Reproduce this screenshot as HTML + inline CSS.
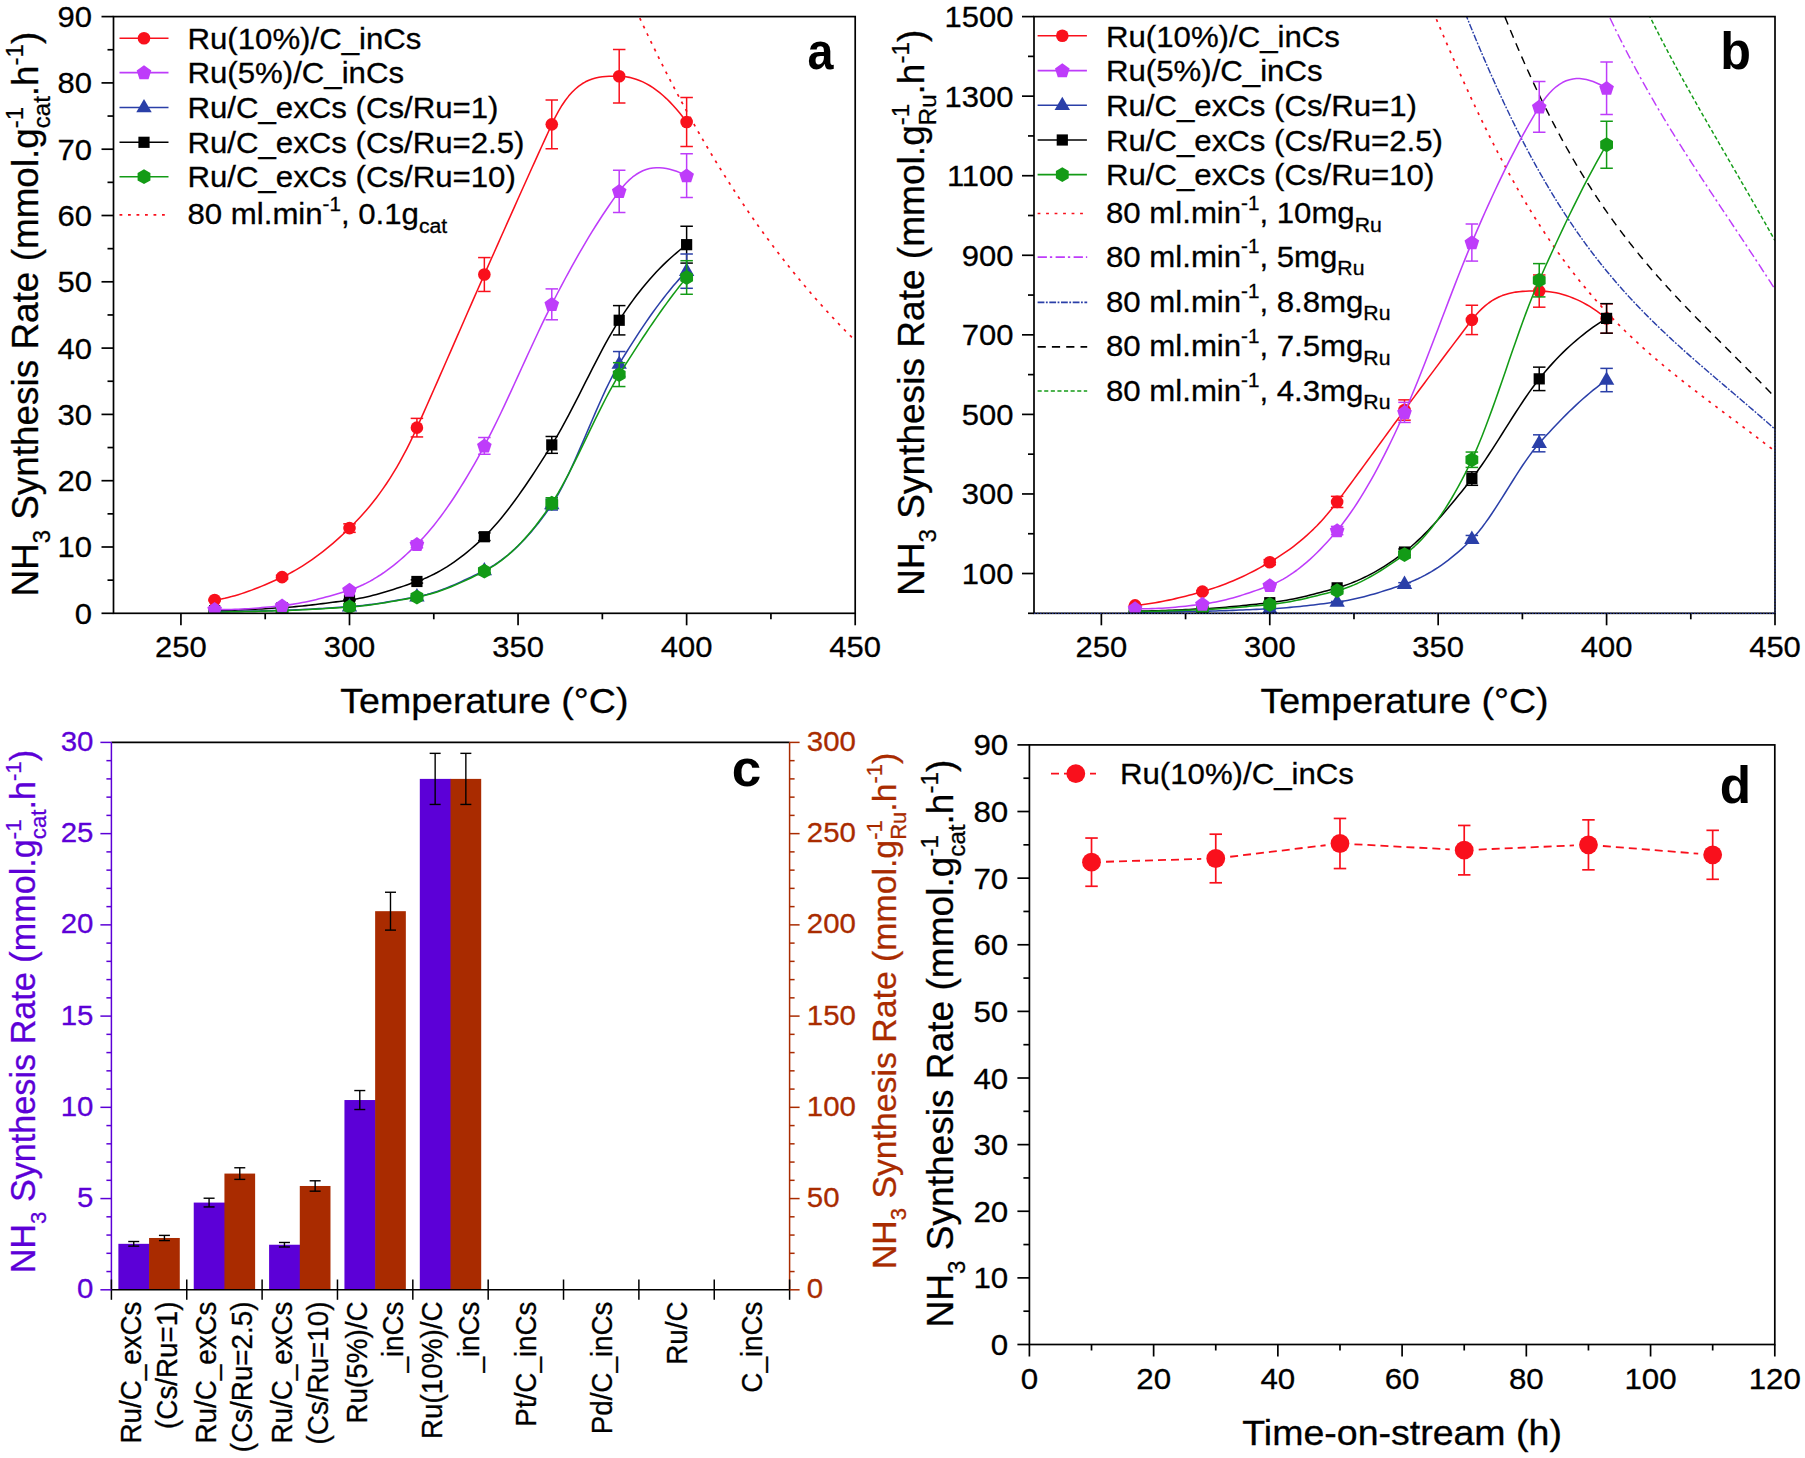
<!DOCTYPE html>
<html><head><meta charset="utf-8"><title>NH3 synthesis rate</title>
<style>html,body{margin:0;padding:0;background:#fff}svg{display:block}</style></head>
<body>
<svg width="1805" height="1458" viewBox="0 0 1805 1458" font-family="Liberation Sans, Arial, Helvetica, sans-serif">
<rect width="1805" height="1458" fill="#fff"/>
<clipPath id="clipa"><rect x="113.5" y="16.6" width="741.7" height="597.3"/></clipPath>
<polyline points="632.69,2.58 633.53,4.45 634.38,6.30 635.22,8.16 636.06,10.00 636.90,11.84 637.75,13.68 638.59,15.51 639.43,17.33 640.28,19.15 641.12,20.96 641.96,22.77 642.80,24.57 643.65,26.36 644.49,28.15 645.33,29.94 646.18,31.72 647.02,33.49 647.86,35.26 648.70,37.02 649.55,38.78 650.39,40.53 651.23,42.28 652.08,44.02 652.92,45.76 653.76,47.49 654.60,49.22 655.45,50.94 656.29,52.65 657.13,54.36 657.98,56.07 658.82,57.77 659.66,59.46 660.50,61.15 661.35,62.84 662.19,64.51 663.03,66.19 663.88,67.86 664.72,69.52 665.56,71.18 666.40,72.83 667.25,74.48 668.09,76.13 668.93,77.76 669.77,79.40 670.62,81.03 671.46,82.65 672.30,84.27 673.15,85.88 673.99,87.49 674.83,89.10 675.67,90.69 676.52,92.29 677.36,93.88 678.20,95.46 679.05,97.04 679.89,98.62 680.73,100.19 681.57,101.75 682.42,103.31 683.26,104.87 684.10,106.42 684.95,107.96 685.79,109.51 686.63,111.04 687.47,112.57 688.32,114.10 689.16,115.62 690.00,117.14 690.85,118.66 691.69,120.17 692.53,121.67 693.37,123.17 694.22,124.66 695.06,126.15 695.90,127.64 696.75,129.12 697.59,130.60 698.43,132.07 699.27,133.54 700.12,135.00 700.96,136.46 701.80,137.92 702.65,139.37 703.49,140.81 704.33,142.25 705.17,143.69 706.02,145.12 706.86,146.55 707.70,147.97 708.55,149.39 709.39,150.81 710.23,152.22 711.07,153.63 711.92,155.03 712.76,156.43 713.60,157.82 714.45,159.21 715.29,160.59 716.13,161.98 716.97,163.35 717.82,164.72 718.66,166.09 719.50,167.46 720.35,168.82 721.19,170.17 722.03,171.52 722.87,172.87 723.72,174.22 724.56,175.55 725.40,176.89 726.25,178.22 727.09,179.55 727.93,180.87 728.77,182.19 729.62,183.51 730.46,184.82 731.30,186.12 732.15,187.43 732.99,188.73 733.83,190.02 734.67,191.31 735.52,192.60 736.36,193.88 737.20,195.16 738.05,196.44 738.89,197.71 739.73,198.98 740.57,200.24 741.42,201.50 742.26,202.76 743.10,204.01 743.95,205.26 744.79,206.50 745.63,207.74 746.47,208.98 747.32,210.21 748.16,211.44 749.00,212.67 749.84,213.89 750.69,215.11 751.53,216.32 752.37,217.53 753.22,218.74 754.06,219.95 754.90,221.14 755.74,222.34 756.59,223.53 757.43,224.72 758.27,225.91 759.12,227.09 759.96,228.27 760.80,229.44 761.64,230.61 762.49,231.78 763.33,232.94 764.17,234.10 765.02,235.26 765.86,236.41 766.70,237.56 767.54,238.71 768.39,239.85 769.23,240.99 770.07,242.13 770.92,243.26 771.76,244.39 772.60,245.51 773.44,246.64 774.29,247.75 775.13,248.87 775.97,249.98 776.82,251.09 777.66,252.19 778.50,253.30 779.34,254.39 780.19,255.49 781.03,256.58 781.87,257.67 782.72,258.75 783.56,259.83 784.40,260.91 785.24,261.99 786.09,263.06 786.93,264.13 787.77,265.19 788.62,266.25 789.46,267.31 790.30,268.37 791.14,269.42 791.99,270.47 792.83,271.51 793.67,272.56 794.52,273.60 795.36,274.63 796.20,275.67 797.04,276.70 797.89,277.72 798.73,278.75 799.57,279.77 800.42,280.78 801.26,281.80 802.10,282.81 802.94,283.82 803.79,284.82 804.63,285.82 805.47,286.82 806.32,287.82 807.16,288.81 808.00,289.80 808.84,290.79 809.69,291.77 810.53,292.75 811.37,293.73 812.22,294.71 813.06,295.68 813.90,296.65 814.74,297.61 815.59,298.58 816.43,299.54 817.27,300.49 818.12,301.45 818.96,302.40 819.80,303.35 820.64,304.29 821.49,305.23 822.33,306.17 823.17,307.11 824.01,308.05 824.86,308.98 825.70,309.90 826.54,310.83 827.39,311.75 828.23,312.67 829.07,313.59 829.91,314.50 830.76,315.42 831.60,316.32 832.44,317.23 833.29,318.13 834.13,319.03 834.97,319.93 835.81,320.83 836.66,321.72 837.50,322.61 838.34,323.49 839.19,324.38 840.03,325.26 840.87,326.14 841.71,327.01 842.56,327.89 843.40,328.76 844.24,329.63 845.09,330.49 845.93,331.35 846.77,332.21 847.61,333.07 848.46,333.93 849.30,334.78 850.14,335.63 850.99,336.47 851.83,337.32 852.67,338.16 853.51,339.00 854.36,339.84 855.20,340.67" fill="none" stroke="#f9101c" stroke-width="1.7" stroke-linejoin="round" stroke-dasharray="2.8 5.7" clip-path="url(#clipa)"/>
<g clip-path="url(#clipa)">
<polyline points="214.64,600.04 218.01,599.51 221.38,598.89 224.75,598.20 228.13,597.42 231.50,596.58 234.87,595.66 238.24,594.67 241.61,593.62 244.98,592.51 248.35,591.35 251.73,590.12 255.10,588.85 258.47,587.52 261.84,586.15 265.21,584.74 268.58,583.29 271.95,581.81 275.33,580.29 278.70,578.74 282.07,577.17 285.44,575.54 288.81,573.82 292.18,572.01 295.55,570.12 298.93,568.14 302.30,566.07 305.67,563.92 309.04,561.68 312.41,559.35 315.78,556.94 319.15,554.44 322.52,551.85 325.90,549.18 329.27,546.42 332.64,543.58 336.01,540.66 339.38,537.64 342.75,534.55 346.12,531.37 349.50,528.10 352.87,524.75 356.24,521.29 359.61,517.71 362.98,514.00 366.35,510.16 369.72,506.16 373.10,501.99 376.47,497.65 379.84,493.13 383.21,488.40 386.58,483.46 389.95,478.31 393.32,472.92 396.69,467.28 400.07,461.39 403.44,455.22 406.81,448.78 410.18,442.05 413.55,435.01 416.92,427.66 420.29,420.13 423.67,412.57 427.04,404.98 430.41,397.37 433.78,389.73 437.15,382.08 440.52,374.40 443.89,366.72 447.27,359.02 450.64,351.32 454.01,343.61 457.38,335.90 460.75,328.19 464.12,320.49 467.49,312.79 470.86,305.10 474.24,297.43 477.61,289.77 480.98,282.13 484.35,274.51 487.72,266.90 491.09,259.30 494.46,251.71 497.84,244.12 501.21,236.54 504.58,228.97 507.95,221.41 511.32,213.85 514.69,206.31 518.06,198.78 521.43,191.27 524.81,183.76 528.18,176.27 531.55,168.80 534.92,161.35 538.29,153.91 541.66,146.48 545.03,139.08 548.41,131.70 551.78,124.34 555.15,117.35 558.52,111.08 561.89,105.47 565.26,100.49 568.63,96.11 572.01,92.29 575.38,88.99 578.75,86.17 582.12,83.79 585.49,81.82 588.86,80.22 592.23,78.96 595.61,77.98 598.98,77.27 602.35,76.77 605.72,76.46 609.09,76.29 612.46,76.23 615.83,76.23 619.20,76.27 622.58,76.42 625.95,76.78 629.32,77.37 632.69,78.17 636.06,79.19 639.43,80.44 642.80,81.90 646.18,83.60 649.55,85.52 652.92,87.66 656.29,90.04 659.66,92.65 663.03,95.49 666.40,98.57 669.77,101.88 673.15,105.43 676.52,109.21 679.89,113.24 683.26,117.51 686.63,122.02" fill="none" stroke="#f9101c" stroke-width="1.55" stroke-linejoin="round"/>
<line x1="214.64" y1="599.38" x2="214.64" y2="600.70" stroke="#f9101c" stroke-width="1.5" stroke-linecap="butt"/>
<line x1="208.39" y1="599.38" x2="220.89" y2="599.38" stroke="#f9101c" stroke-width="1.5" stroke-linecap="butt"/>
<line x1="208.39" y1="600.70" x2="220.89" y2="600.70" stroke="#f9101c" stroke-width="1.5" stroke-linecap="butt"/>
<line x1="282.07" y1="575.36" x2="282.07" y2="578.97" stroke="#f9101c" stroke-width="1.5" stroke-linecap="butt"/>
<line x1="275.82" y1="575.36" x2="288.32" y2="575.36" stroke="#f9101c" stroke-width="1.5" stroke-linecap="butt"/>
<line x1="275.82" y1="578.97" x2="288.32" y2="578.97" stroke="#f9101c" stroke-width="1.5" stroke-linecap="butt"/>
<line x1="349.50" y1="523.84" x2="349.50" y2="532.36" stroke="#f9101c" stroke-width="1.5" stroke-linecap="butt"/>
<line x1="343.25" y1="523.84" x2="355.75" y2="523.84" stroke="#f9101c" stroke-width="1.5" stroke-linecap="butt"/>
<line x1="343.25" y1="532.36" x2="355.75" y2="532.36" stroke="#f9101c" stroke-width="1.5" stroke-linecap="butt"/>
<line x1="416.92" y1="418.38" x2="416.92" y2="436.94" stroke="#f9101c" stroke-width="1.5" stroke-linecap="butt"/>
<line x1="410.67" y1="418.38" x2="423.17" y2="418.38" stroke="#f9101c" stroke-width="1.5" stroke-linecap="butt"/>
<line x1="410.67" y1="436.94" x2="423.17" y2="436.94" stroke="#f9101c" stroke-width="1.5" stroke-linecap="butt"/>
<line x1="484.35" y1="257.57" x2="484.35" y2="291.45" stroke="#f9101c" stroke-width="1.5" stroke-linecap="butt"/>
<line x1="478.10" y1="257.57" x2="490.60" y2="257.57" stroke="#f9101c" stroke-width="1.5" stroke-linecap="butt"/>
<line x1="478.10" y1="291.45" x2="490.60" y2="291.45" stroke="#f9101c" stroke-width="1.5" stroke-linecap="butt"/>
<line x1="551.78" y1="99.89" x2="551.78" y2="148.79" stroke="#f9101c" stroke-width="1.5" stroke-linecap="butt"/>
<line x1="545.53" y1="99.89" x2="558.03" y2="99.89" stroke="#f9101c" stroke-width="1.5" stroke-linecap="butt"/>
<line x1="545.53" y1="148.79" x2="558.03" y2="148.79" stroke="#f9101c" stroke-width="1.5" stroke-linecap="butt"/>
<line x1="619.20" y1="49.42" x2="619.20" y2="103.12" stroke="#f9101c" stroke-width="1.5" stroke-linecap="butt"/>
<line x1="612.95" y1="49.42" x2="625.45" y2="49.42" stroke="#f9101c" stroke-width="1.5" stroke-linecap="butt"/>
<line x1="612.95" y1="103.12" x2="625.45" y2="103.12" stroke="#f9101c" stroke-width="1.5" stroke-linecap="butt"/>
<line x1="686.63" y1="97.45" x2="686.63" y2="146.58" stroke="#f9101c" stroke-width="1.5" stroke-linecap="butt"/>
<line x1="680.38" y1="97.45" x2="692.88" y2="97.45" stroke="#f9101c" stroke-width="1.5" stroke-linecap="butt"/>
<line x1="680.38" y1="146.58" x2="692.88" y2="146.58" stroke="#f9101c" stroke-width="1.5" stroke-linecap="butt"/>
<circle cx="214.64" cy="600.04" r="6.30" fill="#f9101c"/>
<circle cx="282.07" cy="577.17" r="6.30" fill="#f9101c"/>
<circle cx="349.50" cy="528.10" r="6.30" fill="#f9101c"/>
<circle cx="416.92" cy="427.66" r="6.30" fill="#f9101c"/>
<circle cx="484.35" cy="274.51" r="6.30" fill="#f9101c"/>
<circle cx="551.78" cy="124.34" r="6.30" fill="#f9101c"/>
<circle cx="619.20" cy="76.27" r="6.30" fill="#f9101c"/>
<circle cx="686.63" cy="122.02" r="6.30" fill="#f9101c"/>
<polyline points="214.64,610.65 218.01,610.61 221.38,610.55 224.75,610.48 228.13,610.39 231.50,610.29 234.87,610.18 238.24,610.06 241.61,609.92 244.98,609.78 248.35,609.62 251.73,609.45 255.10,609.28 258.47,609.10 261.84,608.91 265.21,608.71 268.58,608.51 271.95,608.31 275.33,608.10 278.70,607.88 282.07,607.66 285.44,607.43 288.81,607.18 292.18,606.91 295.55,606.61 298.93,606.29 302.30,605.96 305.67,605.61 309.04,605.24 312.41,604.86 315.78,604.47 319.15,604.06 322.52,603.64 325.90,603.21 329.27,602.77 332.64,602.33 336.01,601.88 339.38,601.42 342.75,600.97 346.12,600.50 349.50,600.04 352.87,599.54 356.24,598.98 359.61,598.36 362.98,597.67 366.35,596.94 369.72,596.15 373.10,595.31 376.47,594.43 379.84,593.50 383.21,592.54 386.58,591.54 389.95,590.50 393.32,589.44 396.69,588.36 400.07,587.25 403.44,586.12 406.81,584.97 410.18,583.82 413.55,582.65 416.92,581.48 420.29,580.25 423.67,578.91 427.04,577.47 430.41,575.91 433.78,574.26 437.15,572.49 440.52,570.62 443.89,568.64 447.27,566.56 450.64,564.37 454.01,562.07 457.38,559.67 460.75,557.17 464.12,554.56 467.49,551.85 470.86,549.03 474.24,546.11 477.61,543.08 480.98,539.95 484.35,536.72 487.72,533.35 491.09,529.81 494.46,526.09 497.84,522.22 501.21,518.20 504.58,514.04 507.95,509.74 511.32,505.31 514.69,500.76 518.06,496.09 521.43,491.32 524.81,486.46 528.18,481.50 531.55,476.46 534.92,471.34 538.29,466.16 541.66,460.91 545.03,455.62 548.41,450.28 551.78,444.90 555.15,439.37 558.52,433.61 561.89,427.64 565.26,421.48 568.63,415.17 572.01,408.73 575.38,402.18 578.75,395.56 582.12,388.90 585.49,382.21 588.86,375.53 592.23,368.89 595.61,362.31 598.98,355.81 602.35,349.43 605.72,343.20 609.09,337.14 612.46,331.28 615.83,325.64 619.20,320.25 622.58,315.09 625.95,310.09 629.32,305.26 632.69,300.59 636.06,296.07 639.43,291.71 642.80,287.50 646.18,283.43 649.55,279.51 652.92,275.72 656.29,272.07 659.66,268.55 663.03,265.16 666.40,261.89 669.77,258.74 673.15,255.71 676.52,252.79 679.89,249.98 683.26,247.27 686.63,244.67" fill="none" stroke="#000000" stroke-width="1.55" stroke-linejoin="round"/>
<line x1="214.64" y1="610.52" x2="214.64" y2="610.78" stroke="#000000" stroke-width="1.5" stroke-linecap="butt"/>
<line x1="208.39" y1="610.52" x2="220.89" y2="610.52" stroke="#000000" stroke-width="1.5" stroke-linecap="butt"/>
<line x1="208.39" y1="610.78" x2="220.89" y2="610.78" stroke="#000000" stroke-width="1.5" stroke-linecap="butt"/>
<line x1="282.07" y1="607.38" x2="282.07" y2="607.95" stroke="#000000" stroke-width="1.5" stroke-linecap="butt"/>
<line x1="275.82" y1="607.38" x2="288.32" y2="607.38" stroke="#000000" stroke-width="1.5" stroke-linecap="butt"/>
<line x1="275.82" y1="607.95" x2="288.32" y2="607.95" stroke="#000000" stroke-width="1.5" stroke-linecap="butt"/>
<line x1="349.50" y1="599.38" x2="349.50" y2="600.70" stroke="#000000" stroke-width="1.5" stroke-linecap="butt"/>
<line x1="343.25" y1="599.38" x2="355.75" y2="599.38" stroke="#000000" stroke-width="1.5" stroke-linecap="butt"/>
<line x1="343.25" y1="600.70" x2="355.75" y2="600.70" stroke="#000000" stroke-width="1.5" stroke-linecap="butt"/>
<line x1="416.92" y1="579.88" x2="416.92" y2="583.07" stroke="#000000" stroke-width="1.5" stroke-linecap="butt"/>
<line x1="410.67" y1="579.88" x2="423.17" y2="579.88" stroke="#000000" stroke-width="1.5" stroke-linecap="butt"/>
<line x1="410.67" y1="583.07" x2="423.17" y2="583.07" stroke="#000000" stroke-width="1.5" stroke-linecap="butt"/>
<line x1="484.35" y1="532.89" x2="484.35" y2="540.55" stroke="#000000" stroke-width="1.5" stroke-linecap="butt"/>
<line x1="478.10" y1="532.89" x2="490.60" y2="532.89" stroke="#000000" stroke-width="1.5" stroke-linecap="butt"/>
<line x1="478.10" y1="540.55" x2="490.60" y2="540.55" stroke="#000000" stroke-width="1.5" stroke-linecap="butt"/>
<line x1="551.78" y1="436.48" x2="551.78" y2="453.32" stroke="#000000" stroke-width="1.5" stroke-linecap="butt"/>
<line x1="545.53" y1="436.48" x2="558.03" y2="436.48" stroke="#000000" stroke-width="1.5" stroke-linecap="butt"/>
<line x1="545.53" y1="453.32" x2="558.03" y2="453.32" stroke="#000000" stroke-width="1.5" stroke-linecap="butt"/>
<line x1="619.20" y1="305.60" x2="619.20" y2="334.91" stroke="#000000" stroke-width="1.5" stroke-linecap="butt"/>
<line x1="612.95" y1="305.60" x2="625.45" y2="305.60" stroke="#000000" stroke-width="1.5" stroke-linecap="butt"/>
<line x1="612.95" y1="334.91" x2="625.45" y2="334.91" stroke="#000000" stroke-width="1.5" stroke-linecap="butt"/>
<line x1="686.63" y1="226.24" x2="686.63" y2="263.10" stroke="#000000" stroke-width="1.5" stroke-linecap="butt"/>
<line x1="680.38" y1="226.24" x2="692.88" y2="226.24" stroke="#000000" stroke-width="1.5" stroke-linecap="butt"/>
<line x1="680.38" y1="263.10" x2="692.88" y2="263.10" stroke="#000000" stroke-width="1.5" stroke-linecap="butt"/>
<rect x="209.04" y="605.05" width="11.20" height="11.20" fill="#000000"/>
<rect x="276.47" y="602.06" width="11.20" height="11.20" fill="#000000"/>
<rect x="343.90" y="594.44" width="11.20" height="11.20" fill="#000000"/>
<rect x="411.32" y="575.88" width="11.20" height="11.20" fill="#000000"/>
<rect x="478.75" y="531.12" width="11.20" height="11.20" fill="#000000"/>
<rect x="546.18" y="439.30" width="11.20" height="11.20" fill="#000000"/>
<rect x="613.60" y="314.65" width="11.20" height="11.20" fill="#000000"/>
<rect x="681.03" y="239.07" width="11.20" height="11.20" fill="#000000"/>
<polyline points="214.64,611.64 218.01,611.63 221.38,611.61 224.75,611.58 228.13,611.55 231.50,611.50 234.87,611.45 238.24,611.40 241.61,611.34 244.98,611.27 248.35,611.20 251.73,611.13 255.10,611.05 258.47,610.97 261.84,610.88 265.21,610.79 268.58,610.70 271.95,610.61 275.33,610.51 278.70,610.41 282.07,610.32 285.44,610.21 288.81,610.10 292.18,609.97 295.55,609.83 298.93,609.68 302.30,609.52 305.67,609.35 309.04,609.18 312.41,608.99 315.78,608.80 319.15,608.61 322.52,608.40 325.90,608.20 329.27,607.99 332.64,607.77 336.01,607.55 339.38,607.33 342.75,607.11 346.12,606.89 349.50,606.67 352.87,606.43 356.24,606.14 359.61,605.82 362.98,605.46 366.35,605.06 369.72,604.64 373.10,604.18 376.47,603.70 379.84,603.19 383.21,602.66 386.58,602.12 389.95,601.55 393.32,600.97 396.69,600.38 400.07,599.78 403.44,599.17 406.81,598.56 410.18,597.95 413.55,597.34 416.92,596.72 420.29,596.07 423.67,595.31 427.04,594.45 430.41,593.51 433.78,592.48 437.15,591.38 440.52,590.20 443.89,588.95 447.27,587.64 450.64,586.27 454.01,584.85 457.38,583.38 460.75,581.87 464.12,580.32 467.49,578.74 470.86,577.13 474.24,575.50 477.61,573.86 480.98,572.20 484.35,570.54 487.72,568.79 491.09,566.89 494.46,564.83 497.84,562.61 501.21,560.23 504.58,557.68 507.95,554.98 511.32,552.11 514.69,549.07 518.06,545.87 521.43,542.51 524.81,538.97 528.18,535.27 531.55,531.40 534.92,527.36 538.29,523.15 541.66,518.76 545.03,514.21 548.41,509.47 551.78,504.57 555.15,499.31 558.52,493.55 561.89,487.34 565.26,480.73 568.63,473.79 572.01,466.55 575.38,459.07 578.75,451.41 582.12,443.61 585.49,435.74 588.86,427.83 592.23,419.95 595.61,412.14 598.98,404.46 602.35,396.96 605.72,389.70 609.09,382.72 612.46,376.08 615.83,369.82 619.20,364.01 622.58,358.47 625.95,353.01 629.32,347.61 632.69,342.30 636.06,337.07 639.43,331.92 642.80,326.87 646.18,321.91 649.55,317.05 652.92,312.29 656.29,307.64 659.66,303.09 663.03,298.67 666.40,294.36 669.77,290.17 673.15,286.10 676.52,282.17 679.89,278.37 683.26,274.71 686.63,271.19" fill="none" stroke="#2a3fa8" stroke-width="1.55" stroke-linejoin="round"/>
<line x1="214.64" y1="611.56" x2="214.64" y2="611.73" stroke="#2a3fa8" stroke-width="1.5" stroke-linecap="butt"/>
<line x1="208.39" y1="611.56" x2="220.89" y2="611.56" stroke="#2a3fa8" stroke-width="1.5" stroke-linecap="butt"/>
<line x1="208.39" y1="611.73" x2="220.89" y2="611.73" stroke="#2a3fa8" stroke-width="1.5" stroke-linecap="butt"/>
<line x1="282.07" y1="610.17" x2="282.07" y2="610.47" stroke="#2a3fa8" stroke-width="1.5" stroke-linecap="butt"/>
<line x1="275.82" y1="610.17" x2="288.32" y2="610.17" stroke="#2a3fa8" stroke-width="1.5" stroke-linecap="butt"/>
<line x1="275.82" y1="610.47" x2="288.32" y2="610.47" stroke="#2a3fa8" stroke-width="1.5" stroke-linecap="butt"/>
<line x1="349.50" y1="606.34" x2="349.50" y2="607.00" stroke="#2a3fa8" stroke-width="1.5" stroke-linecap="butt"/>
<line x1="343.25" y1="606.34" x2="355.75" y2="606.34" stroke="#2a3fa8" stroke-width="1.5" stroke-linecap="butt"/>
<line x1="343.25" y1="607.00" x2="355.75" y2="607.00" stroke="#2a3fa8" stroke-width="1.5" stroke-linecap="butt"/>
<line x1="416.92" y1="595.90" x2="416.92" y2="597.55" stroke="#2a3fa8" stroke-width="1.5" stroke-linecap="butt"/>
<line x1="410.67" y1="595.90" x2="423.17" y2="595.90" stroke="#2a3fa8" stroke-width="1.5" stroke-linecap="butt"/>
<line x1="410.67" y1="597.55" x2="423.17" y2="597.55" stroke="#2a3fa8" stroke-width="1.5" stroke-linecap="butt"/>
<line x1="484.35" y1="568.40" x2="484.35" y2="572.67" stroke="#2a3fa8" stroke-width="1.5" stroke-linecap="butt"/>
<line x1="478.10" y1="568.40" x2="490.60" y2="568.40" stroke="#2a3fa8" stroke-width="1.5" stroke-linecap="butt"/>
<line x1="478.10" y1="572.67" x2="490.60" y2="572.67" stroke="#2a3fa8" stroke-width="1.5" stroke-linecap="butt"/>
<line x1="551.78" y1="499.13" x2="551.78" y2="510.00" stroke="#2a3fa8" stroke-width="1.5" stroke-linecap="butt"/>
<line x1="545.53" y1="499.13" x2="558.03" y2="499.13" stroke="#2a3fa8" stroke-width="1.5" stroke-linecap="butt"/>
<line x1="545.53" y1="510.00" x2="558.03" y2="510.00" stroke="#2a3fa8" stroke-width="1.5" stroke-linecap="butt"/>
<line x1="619.20" y1="351.55" x2="619.20" y2="376.48" stroke="#2a3fa8" stroke-width="1.5" stroke-linecap="butt"/>
<line x1="612.95" y1="351.55" x2="625.45" y2="351.55" stroke="#2a3fa8" stroke-width="1.5" stroke-linecap="butt"/>
<line x1="612.95" y1="376.48" x2="625.45" y2="376.48" stroke="#2a3fa8" stroke-width="1.5" stroke-linecap="butt"/>
<line x1="686.63" y1="254.09" x2="686.63" y2="288.30" stroke="#2a3fa8" stroke-width="1.5" stroke-linecap="butt"/>
<line x1="680.38" y1="254.09" x2="692.88" y2="254.09" stroke="#2a3fa8" stroke-width="1.5" stroke-linecap="butt"/>
<line x1="680.38" y1="288.30" x2="692.88" y2="288.30" stroke="#2a3fa8" stroke-width="1.5" stroke-linecap="butt"/>
<polygon points="214.64,603.04 222.35,616.39 206.93,616.39" fill="#2a3fa8"/>
<polygon points="282.07,601.72 289.78,615.07 274.36,615.07" fill="#2a3fa8"/>
<polygon points="349.50,598.07 357.20,611.42 341.79,611.42" fill="#2a3fa8"/>
<polygon points="416.92,588.12 424.63,601.47 409.22,601.47" fill="#2a3fa8"/>
<polygon points="484.35,561.94 492.06,575.29 476.64,575.29" fill="#2a3fa8"/>
<polygon points="551.78,495.97 559.48,509.32 544.07,509.32" fill="#2a3fa8"/>
<polygon points="619.20,355.41 626.91,368.76 611.50,368.76" fill="#2a3fa8"/>
<polygon points="686.63,262.59 694.34,275.94 678.92,275.94" fill="#2a3fa8"/>
<polyline points="214.64,611.97 218.01,611.96 221.38,611.94 224.75,611.91 228.13,611.88 231.50,611.83 234.87,611.79 238.24,611.73 241.61,611.67 244.98,611.60 248.35,611.53 251.73,611.46 255.10,611.38 258.47,611.30 261.84,611.21 265.21,611.12 268.58,611.03 271.95,610.94 275.33,610.84 278.70,610.75 282.07,610.65 285.44,610.54 288.81,610.43 292.18,610.30 295.55,610.16 298.93,610.01 302.30,609.85 305.67,609.69 309.04,609.51 312.41,609.33 315.78,609.14 319.15,608.94 322.52,608.74 325.90,608.53 329.27,608.32 332.64,608.11 336.01,607.89 339.38,607.67 342.75,607.45 346.12,607.22 349.50,607.00 352.87,606.76 356.24,606.47 359.61,606.15 362.98,605.78 366.35,605.39 369.72,604.96 373.10,604.50 376.47,604.01 379.84,603.51 383.21,602.97 386.58,602.43 389.95,601.86 393.32,601.28 396.69,600.69 400.07,600.09 403.44,599.49 406.81,598.88 410.18,598.27 413.55,597.66 416.92,597.06 420.29,596.41 423.67,595.67 427.04,594.85 430.41,593.94 433.78,592.95 437.15,591.89 440.52,590.75 443.89,589.55 447.27,588.28 450.64,586.95 454.01,585.57 457.38,584.13 460.75,582.65 464.12,581.11 467.49,579.54 470.86,577.93 474.24,576.29 477.61,574.62 480.98,572.92 484.35,571.20 487.72,569.39 491.09,567.42 494.46,565.28 497.84,562.99 501.21,560.53 504.58,557.90 507.95,555.11 511.32,552.15 514.69,549.02 518.06,545.73 521.43,542.26 524.81,538.62 528.18,534.81 531.55,530.83 534.92,526.68 538.29,522.34 541.66,517.83 545.03,513.15 548.41,508.29 551.78,503.24 555.15,497.93 558.52,492.30 561.89,486.37 565.26,480.18 568.63,473.77 572.01,467.17 575.38,460.41 578.75,453.54 582.12,446.59 585.49,439.58 588.86,432.57 592.23,425.58 595.61,418.64 598.98,411.79 602.35,405.08 605.72,398.52 609.09,392.16 612.46,386.04 615.83,380.18 619.20,374.62 622.58,369.24 625.95,363.89 629.32,358.58 632.69,353.31 636.06,348.09 639.43,342.91 642.80,337.78 646.18,332.71 649.55,327.69 652.92,322.74 656.29,317.86 659.66,313.04 663.03,308.30 666.40,303.64 669.77,299.05 673.15,294.56 676.52,290.15 679.89,285.83 683.26,281.61 686.63,277.49" fill="none" stroke="#139b16" stroke-width="1.55" stroke-linejoin="round"/>
<line x1="214.64" y1="611.91" x2="214.64" y2="612.04" stroke="#139b16" stroke-width="1.5" stroke-linecap="butt"/>
<line x1="208.39" y1="611.91" x2="220.89" y2="611.91" stroke="#139b16" stroke-width="1.5" stroke-linecap="butt"/>
<line x1="208.39" y1="612.04" x2="220.89" y2="612.04" stroke="#139b16" stroke-width="1.5" stroke-linecap="butt"/>
<line x1="282.07" y1="610.52" x2="282.07" y2="610.78" stroke="#139b16" stroke-width="1.5" stroke-linecap="butt"/>
<line x1="275.82" y1="610.52" x2="288.32" y2="610.52" stroke="#139b16" stroke-width="1.5" stroke-linecap="butt"/>
<line x1="275.82" y1="610.78" x2="288.32" y2="610.78" stroke="#139b16" stroke-width="1.5" stroke-linecap="butt"/>
<line x1="349.50" y1="606.69" x2="349.50" y2="607.32" stroke="#139b16" stroke-width="1.5" stroke-linecap="butt"/>
<line x1="343.25" y1="606.69" x2="355.75" y2="606.69" stroke="#139b16" stroke-width="1.5" stroke-linecap="butt"/>
<line x1="343.25" y1="607.32" x2="355.75" y2="607.32" stroke="#139b16" stroke-width="1.5" stroke-linecap="butt"/>
<line x1="416.92" y1="596.24" x2="416.92" y2="597.87" stroke="#139b16" stroke-width="1.5" stroke-linecap="butt"/>
<line x1="410.67" y1="596.24" x2="423.17" y2="596.24" stroke="#139b16" stroke-width="1.5" stroke-linecap="butt"/>
<line x1="410.67" y1="597.87" x2="423.17" y2="597.87" stroke="#139b16" stroke-width="1.5" stroke-linecap="butt"/>
<line x1="484.35" y1="569.09" x2="484.35" y2="573.30" stroke="#139b16" stroke-width="1.5" stroke-linecap="butt"/>
<line x1="478.10" y1="569.09" x2="490.60" y2="569.09" stroke="#139b16" stroke-width="1.5" stroke-linecap="butt"/>
<line x1="478.10" y1="573.30" x2="490.60" y2="573.30" stroke="#139b16" stroke-width="1.5" stroke-linecap="butt"/>
<line x1="551.78" y1="497.74" x2="551.78" y2="508.74" stroke="#139b16" stroke-width="1.5" stroke-linecap="butt"/>
<line x1="545.53" y1="497.74" x2="558.03" y2="497.74" stroke="#139b16" stroke-width="1.5" stroke-linecap="butt"/>
<line x1="545.53" y1="508.74" x2="558.03" y2="508.74" stroke="#139b16" stroke-width="1.5" stroke-linecap="butt"/>
<line x1="619.20" y1="362.69" x2="619.20" y2="386.55" stroke="#139b16" stroke-width="1.5" stroke-linecap="butt"/>
<line x1="612.95" y1="362.69" x2="625.45" y2="362.69" stroke="#139b16" stroke-width="1.5" stroke-linecap="butt"/>
<line x1="612.95" y1="386.55" x2="625.45" y2="386.55" stroke="#139b16" stroke-width="1.5" stroke-linecap="butt"/>
<line x1="686.63" y1="260.70" x2="686.63" y2="294.28" stroke="#139b16" stroke-width="1.5" stroke-linecap="butt"/>
<line x1="680.38" y1="260.70" x2="692.88" y2="260.70" stroke="#139b16" stroke-width="1.5" stroke-linecap="butt"/>
<line x1="680.38" y1="294.28" x2="692.88" y2="294.28" stroke="#139b16" stroke-width="1.5" stroke-linecap="butt"/>
<polygon points="214.64,604.57 221.05,608.27 221.05,615.67 214.64,619.37 208.23,615.67 208.23,608.27" fill="#139b16"/>
<polygon points="282.07,603.25 288.48,606.95 288.48,614.35 282.07,618.05 275.66,614.35 275.66,606.95" fill="#139b16"/>
<polygon points="349.50,599.60 355.90,603.30 355.90,610.70 349.50,614.40 343.09,610.70 343.09,603.30" fill="#139b16"/>
<polygon points="416.92,589.66 423.33,593.36 423.33,600.76 416.92,604.46 410.51,600.76 410.51,593.36" fill="#139b16"/>
<polygon points="484.35,563.80 490.76,567.50 490.76,574.90 484.35,578.60 477.94,574.90 477.94,567.50" fill="#139b16"/>
<polygon points="551.78,495.84 558.19,499.54 558.19,506.94 551.78,510.64 545.37,506.94 545.37,499.54" fill="#139b16"/>
<polygon points="619.20,367.22 625.61,370.92 625.61,378.32 619.20,382.02 612.80,378.32 612.80,370.92" fill="#139b16"/>
<polygon points="686.63,270.09 693.04,273.79 693.04,281.19 686.63,284.89 680.22,281.19 680.22,273.79" fill="#139b16"/>
<polyline points="214.64,609.32 218.01,609.42 221.38,609.47 224.75,609.49 228.13,609.46 231.50,609.41 234.87,609.32 238.24,609.20 241.61,609.05 244.98,608.87 248.35,608.67 251.73,608.44 255.10,608.19 258.47,607.93 261.84,607.64 265.21,607.34 268.58,607.03 271.95,606.70 275.33,606.37 278.70,606.02 282.07,605.68 285.44,605.30 288.81,604.86 292.18,604.37 295.55,603.83 298.93,603.24 302.30,602.61 305.67,601.93 309.04,601.21 312.41,600.45 315.78,599.65 319.15,598.82 322.52,597.95 325.90,597.05 329.27,596.13 332.64,595.17 336.01,594.20 339.38,593.20 342.75,592.18 346.12,591.15 349.50,590.09 352.87,588.97 356.24,587.71 359.61,586.31 362.98,584.79 366.35,583.13 369.72,581.35 373.10,579.45 376.47,577.42 379.84,575.27 383.21,573.01 386.58,570.63 389.95,568.13 393.32,565.53 396.69,562.81 400.07,559.99 403.44,557.06 406.81,554.03 410.18,550.90 413.55,547.67 416.92,544.35 420.29,540.89 423.67,537.27 427.04,533.47 430.41,529.52 433.78,525.41 437.15,521.13 440.52,516.70 443.89,512.12 447.27,507.38 450.64,502.49 454.01,497.46 457.38,492.28 460.75,486.96 464.12,481.49 467.49,475.89 470.86,470.16 474.24,464.28 477.61,458.28 480.98,452.15 484.35,445.89 487.72,439.48 491.09,432.88 494.46,426.13 497.84,419.24 501.21,412.22 504.58,405.10 507.95,397.89 511.32,390.61 514.69,383.28 518.06,375.92 521.43,368.53 524.81,361.16 528.18,353.80 531.55,346.48 534.92,339.21 538.29,332.02 541.66,324.92 545.03,317.93 548.41,311.06 551.78,304.34 555.15,297.75 558.52,291.24 561.89,284.82 565.26,278.50 568.63,272.27 572.01,266.13 575.38,260.10 578.75,254.16 582.12,248.33 585.49,242.59 588.86,236.97 592.23,231.44 595.61,226.03 598.98,220.73 602.35,215.53 605.72,210.45 609.09,205.49 612.46,200.64 615.83,195.91 619.20,191.30 622.58,187.00 625.95,183.20 629.32,179.86 632.69,176.97 636.06,174.52 639.43,172.47 642.80,170.82 646.18,169.53 649.55,168.60 652.92,167.99 656.29,167.70 659.66,167.70 663.03,167.96 666.40,168.48 669.77,169.23 673.15,170.19 676.52,171.33 679.89,172.65 683.26,174.12 686.63,175.72" fill="none" stroke="#be3cfa" stroke-width="1.55" stroke-linejoin="round"/>
<line x1="214.64" y1="609.12" x2="214.64" y2="609.52" stroke="#be3cfa" stroke-width="1.5" stroke-linecap="butt"/>
<line x1="208.39" y1="609.12" x2="220.89" y2="609.12" stroke="#be3cfa" stroke-width="1.5" stroke-linecap="butt"/>
<line x1="208.39" y1="609.52" x2="220.89" y2="609.52" stroke="#be3cfa" stroke-width="1.5" stroke-linecap="butt"/>
<line x1="282.07" y1="605.29" x2="282.07" y2="606.06" stroke="#be3cfa" stroke-width="1.5" stroke-linecap="butt"/>
<line x1="275.82" y1="605.29" x2="288.32" y2="605.29" stroke="#be3cfa" stroke-width="1.5" stroke-linecap="butt"/>
<line x1="275.82" y1="606.06" x2="288.32" y2="606.06" stroke="#be3cfa" stroke-width="1.5" stroke-linecap="butt"/>
<line x1="349.50" y1="588.93" x2="349.50" y2="591.26" stroke="#be3cfa" stroke-width="1.5" stroke-linecap="butt"/>
<line x1="343.25" y1="588.93" x2="355.75" y2="588.93" stroke="#be3cfa" stroke-width="1.5" stroke-linecap="butt"/>
<line x1="343.25" y1="591.26" x2="355.75" y2="591.26" stroke="#be3cfa" stroke-width="1.5" stroke-linecap="butt"/>
<line x1="416.92" y1="540.90" x2="416.92" y2="547.80" stroke="#be3cfa" stroke-width="1.5" stroke-linecap="butt"/>
<line x1="410.67" y1="540.90" x2="423.17" y2="540.90" stroke="#be3cfa" stroke-width="1.5" stroke-linecap="butt"/>
<line x1="410.67" y1="547.80" x2="423.17" y2="547.80" stroke="#be3cfa" stroke-width="1.5" stroke-linecap="butt"/>
<line x1="484.35" y1="437.52" x2="484.35" y2="454.26" stroke="#be3cfa" stroke-width="1.5" stroke-linecap="butt"/>
<line x1="478.10" y1="437.52" x2="490.60" y2="437.52" stroke="#be3cfa" stroke-width="1.5" stroke-linecap="butt"/>
<line x1="478.10" y1="454.26" x2="490.60" y2="454.26" stroke="#be3cfa" stroke-width="1.5" stroke-linecap="butt"/>
<line x1="551.78" y1="288.89" x2="551.78" y2="319.79" stroke="#be3cfa" stroke-width="1.5" stroke-linecap="butt"/>
<line x1="545.53" y1="288.89" x2="558.03" y2="288.89" stroke="#be3cfa" stroke-width="1.5" stroke-linecap="butt"/>
<line x1="545.53" y1="319.79" x2="558.03" y2="319.79" stroke="#be3cfa" stroke-width="1.5" stroke-linecap="butt"/>
<line x1="619.20" y1="170.20" x2="619.20" y2="212.40" stroke="#be3cfa" stroke-width="1.5" stroke-linecap="butt"/>
<line x1="612.95" y1="170.20" x2="625.45" y2="170.20" stroke="#be3cfa" stroke-width="1.5" stroke-linecap="butt"/>
<line x1="612.95" y1="212.40" x2="625.45" y2="212.40" stroke="#be3cfa" stroke-width="1.5" stroke-linecap="butt"/>
<line x1="686.63" y1="153.84" x2="686.63" y2="197.60" stroke="#be3cfa" stroke-width="1.5" stroke-linecap="butt"/>
<line x1="680.38" y1="153.84" x2="692.88" y2="153.84" stroke="#be3cfa" stroke-width="1.5" stroke-linecap="butt"/>
<line x1="680.38" y1="197.60" x2="692.88" y2="197.60" stroke="#be3cfa" stroke-width="1.5" stroke-linecap="butt"/>
<polygon points="214.64,602.02 221.96,607.34 219.17,615.95 210.11,615.95 207.32,607.34" fill="#be3cfa"/>
<polygon points="282.07,598.38 289.39,603.70 286.59,612.30 277.54,612.30 274.75,603.70" fill="#be3cfa"/>
<polygon points="349.50,582.79 356.82,588.12 354.02,596.72 344.97,596.72 342.17,588.12" fill="#be3cfa"/>
<polygon points="416.92,537.05 424.25,542.37 421.45,550.98 412.40,550.98 409.60,542.37" fill="#be3cfa"/>
<polygon points="484.35,438.59 491.67,443.91 488.88,452.52 479.82,452.52 477.03,443.91" fill="#be3cfa"/>
<polygon points="551.78,297.04 559.10,302.36 556.30,310.97 547.25,310.97 544.45,302.36" fill="#be3cfa"/>
<polygon points="619.20,184.00 626.53,189.32 623.73,197.93 614.68,197.93 611.88,189.32" fill="#be3cfa"/>
<polygon points="686.63,168.42 693.95,173.74 691.16,182.35 682.11,182.35 679.31,173.74" fill="#be3cfa"/>
</g>
<rect x="113.5" y="16.6" width="741.7" height="596.6999999999999" fill="none" stroke="#000" stroke-width="1.7"/>
<line x1="180.93" y1="613.30" x2="180.93" y2="625.30" stroke="#000" stroke-width="1.7" stroke-linecap="butt"/>
<text transform="translate(180.93,657.00) scale(1.05,1.0)" font-size="29.5" text-anchor="middle" fill="#000" stroke="#000" stroke-width="0.3">250</text>
<line x1="265.21" y1="613.30" x2="265.21" y2="619.30" stroke="#000" stroke-width="1.7" stroke-linecap="butt"/>
<line x1="349.50" y1="613.30" x2="349.50" y2="625.30" stroke="#000" stroke-width="1.7" stroke-linecap="butt"/>
<text transform="translate(349.50,657.00) scale(1.05,1.0)" font-size="29.5" text-anchor="middle" fill="#000" stroke="#000" stroke-width="0.3">300</text>
<line x1="433.78" y1="613.30" x2="433.78" y2="619.30" stroke="#000" stroke-width="1.7" stroke-linecap="butt"/>
<line x1="518.06" y1="613.30" x2="518.06" y2="625.30" stroke="#000" stroke-width="1.7" stroke-linecap="butt"/>
<text transform="translate(518.06,657.00) scale(1.05,1.0)" font-size="29.5" text-anchor="middle" fill="#000" stroke="#000" stroke-width="0.3">350</text>
<line x1="602.35" y1="613.30" x2="602.35" y2="619.30" stroke="#000" stroke-width="1.7" stroke-linecap="butt"/>
<line x1="686.63" y1="613.30" x2="686.63" y2="625.30" stroke="#000" stroke-width="1.7" stroke-linecap="butt"/>
<text transform="translate(686.63,657.00) scale(1.05,1.0)" font-size="29.5" text-anchor="middle" fill="#000" stroke="#000" stroke-width="0.3">400</text>
<line x1="770.92" y1="613.30" x2="770.92" y2="619.30" stroke="#000" stroke-width="1.7" stroke-linecap="butt"/>
<line x1="855.20" y1="613.30" x2="855.20" y2="625.30" stroke="#000" stroke-width="1.7" stroke-linecap="butt"/>
<text transform="translate(855.20,657.00) scale(1.05,1.0)" font-size="29.5" text-anchor="middle" fill="#000" stroke="#000" stroke-width="0.3">450</text>
<line x1="101.50" y1="613.30" x2="113.50" y2="613.30" stroke="#000" stroke-width="1.7" stroke-linecap="butt"/>
<text transform="translate(92.00,623.70) scale(1.05,1.0)" font-size="29.5" text-anchor="end" fill="#000" stroke="#000" stroke-width="0.3">0</text>
<line x1="107.50" y1="580.15" x2="113.50" y2="580.15" stroke="#000" stroke-width="1.7" stroke-linecap="butt"/>
<line x1="101.50" y1="547.00" x2="113.50" y2="547.00" stroke="#000" stroke-width="1.7" stroke-linecap="butt"/>
<text transform="translate(92.00,557.40) scale(1.05,1.0)" font-size="29.5" text-anchor="end" fill="#000" stroke="#000" stroke-width="0.3">10</text>
<line x1="107.50" y1="513.85" x2="113.50" y2="513.85" stroke="#000" stroke-width="1.7" stroke-linecap="butt"/>
<line x1="101.50" y1="480.70" x2="113.50" y2="480.70" stroke="#000" stroke-width="1.7" stroke-linecap="butt"/>
<text transform="translate(92.00,491.10) scale(1.05,1.0)" font-size="29.5" text-anchor="end" fill="#000" stroke="#000" stroke-width="0.3">20</text>
<line x1="107.50" y1="447.55" x2="113.50" y2="447.55" stroke="#000" stroke-width="1.7" stroke-linecap="butt"/>
<line x1="101.50" y1="414.40" x2="113.50" y2="414.40" stroke="#000" stroke-width="1.7" stroke-linecap="butt"/>
<text transform="translate(92.00,424.80) scale(1.05,1.0)" font-size="29.5" text-anchor="end" fill="#000" stroke="#000" stroke-width="0.3">30</text>
<line x1="107.50" y1="381.25" x2="113.50" y2="381.25" stroke="#000" stroke-width="1.7" stroke-linecap="butt"/>
<line x1="101.50" y1="348.10" x2="113.50" y2="348.10" stroke="#000" stroke-width="1.7" stroke-linecap="butt"/>
<text transform="translate(92.00,358.50) scale(1.05,1.0)" font-size="29.5" text-anchor="end" fill="#000" stroke="#000" stroke-width="0.3">40</text>
<line x1="107.50" y1="314.95" x2="113.50" y2="314.95" stroke="#000" stroke-width="1.7" stroke-linecap="butt"/>
<line x1="101.50" y1="281.80" x2="113.50" y2="281.80" stroke="#000" stroke-width="1.7" stroke-linecap="butt"/>
<text transform="translate(92.00,292.20) scale(1.05,1.0)" font-size="29.5" text-anchor="end" fill="#000" stroke="#000" stroke-width="0.3">50</text>
<line x1="107.50" y1="248.65" x2="113.50" y2="248.65" stroke="#000" stroke-width="1.7" stroke-linecap="butt"/>
<line x1="101.50" y1="215.50" x2="113.50" y2="215.50" stroke="#000" stroke-width="1.7" stroke-linecap="butt"/>
<text transform="translate(92.00,225.90) scale(1.05,1.0)" font-size="29.5" text-anchor="end" fill="#000" stroke="#000" stroke-width="0.3">60</text>
<line x1="107.50" y1="182.35" x2="113.50" y2="182.35" stroke="#000" stroke-width="1.7" stroke-linecap="butt"/>
<line x1="101.50" y1="149.20" x2="113.50" y2="149.20" stroke="#000" stroke-width="1.7" stroke-linecap="butt"/>
<text transform="translate(92.00,159.60) scale(1.05,1.0)" font-size="29.5" text-anchor="end" fill="#000" stroke="#000" stroke-width="0.3">70</text>
<line x1="107.50" y1="116.05" x2="113.50" y2="116.05" stroke="#000" stroke-width="1.7" stroke-linecap="butt"/>
<line x1="101.50" y1="82.90" x2="113.50" y2="82.90" stroke="#000" stroke-width="1.7" stroke-linecap="butt"/>
<text transform="translate(92.00,93.30) scale(1.05,1.0)" font-size="29.5" text-anchor="end" fill="#000" stroke="#000" stroke-width="0.3">80</text>
<line x1="107.50" y1="49.75" x2="113.50" y2="49.75" stroke="#000" stroke-width="1.7" stroke-linecap="butt"/>
<line x1="101.50" y1="16.60" x2="113.50" y2="16.60" stroke="#000" stroke-width="1.7" stroke-linecap="butt"/>
<text transform="translate(92.00,27.00) scale(1.05,1.0)" font-size="29.5" text-anchor="end" fill="#000" stroke="#000" stroke-width="0.3">90</text>
<text transform="translate(484.35,713.00) scale(1.048,1.0)" font-size="35.8" text-anchor="middle" fill="#000" stroke="#000" stroke-width="0.3">Temperature (°C)</text>
<text transform="translate(37.70,314.20) rotate(-90) scale(1.0,1.0)" font-size="36.9" text-anchor="middle" fill="#000" stroke="#000" stroke-width="0.3">NH<tspan font-size="23.98" dy="11.81">3</tspan><tspan dy="-11.81"> Synthesis Rate (mmol.g</tspan><tspan font-size="23.98" dy="-15.13">-1</tspan><tspan font-size="23.98" dx="-21.32" dy="26.94">cat</tspan><tspan dy="-11.81">.h</tspan><tspan font-size="23.98" dy="-15.13">-1</tspan><tspan dy="15.13">)</tspan></text>
<line x1="119.50" y1="38.20" x2="168.50" y2="38.20" stroke="#f9101c" stroke-width="1.6" stroke-linecap="butt"/>
<circle cx="144.00" cy="38.20" r="6.30" fill="#f9101c"/>
<text transform="translate(187.50,48.90) scale(1.05,1.0)" font-size="29.7" text-anchor="start" fill="#000" stroke="#000" stroke-width="0.3">Ru(10%)/C_inCs</text>
<line x1="119.50" y1="72.60" x2="168.50" y2="72.60" stroke="#be3cfa" stroke-width="1.6" stroke-linecap="butt"/>
<polygon points="144.00,65.30 151.32,70.62 148.53,79.23 139.47,79.23 136.68,70.62" fill="#be3cfa"/>
<text transform="translate(187.50,83.30) scale(1.05,1.0)" font-size="29.7" text-anchor="start" fill="#000" stroke="#000" stroke-width="0.3">Ru(5%)/C_inCs</text>
<line x1="119.50" y1="107.50" x2="168.50" y2="107.50" stroke="#2a3fa8" stroke-width="1.6" stroke-linecap="butt"/>
<polygon points="144.00,98.90 151.71,112.25 136.29,112.25" fill="#2a3fa8"/>
<text transform="translate(187.50,118.20) scale(1.05,1.0)" font-size="29.7" text-anchor="start" fill="#000" stroke="#000" stroke-width="0.3">Ru/C_exCs (Cs/Ru=1)</text>
<line x1="119.50" y1="142.30" x2="168.50" y2="142.30" stroke="#000000" stroke-width="1.6" stroke-linecap="butt"/>
<rect x="138.40" y="136.70" width="11.20" height="11.20" fill="#000000"/>
<text transform="translate(187.50,153.00) scale(1.05,1.0)" font-size="29.7" text-anchor="start" fill="#000" stroke="#000" stroke-width="0.3">Ru/C_exCs (Cs/Ru=2.5)</text>
<line x1="119.50" y1="176.70" x2="168.50" y2="176.70" stroke="#139b16" stroke-width="1.6" stroke-linecap="butt"/>
<polygon points="144.00,169.30 150.41,173.00 150.41,180.40 144.00,184.10 137.59,180.40 137.59,173.00" fill="#139b16"/>
<text transform="translate(187.50,187.40) scale(1.05,1.0)" font-size="29.7" text-anchor="start" fill="#000" stroke="#000" stroke-width="0.3">Ru/C_exCs (Cs/Ru=10)</text>
<line x1="119.50" y1="214.90" x2="168.80" y2="214.90" stroke="#f9101c" stroke-width="1.7" stroke-linecap="butt" stroke-dasharray="2.8 5.7"/>
<text transform="translate(187.50,224.40) scale(1.05,1.0)" font-size="29.7" text-anchor="start" fill="#000" stroke="#000" stroke-width="0.3">80 ml.min<tspan font-size="19.60" dy="-13.5">-1</tspan><tspan dy="13.5">, 0.1g</tspan><tspan font-size="20.20" dy="8.5">cat</tspan></text>
<text transform="translate(807.60,68.50) scale(0.91,1.0)" font-size="51.3" text-anchor="start" fill="#000" stroke="#000" stroke-width="0" font-weight="bold">a</text>
<clipPath id="clipb"><rect x="1034.0" y="16.6" width="741.0" height="597.3"/></clipPath>
<polyline points="1429.76,3.57 1430.60,5.57 1431.45,7.57 1432.29,9.56 1433.13,11.56 1433.97,13.55 1434.81,15.54 1435.66,17.53 1436.50,19.51 1437.34,21.50 1438.18,23.48 1439.02,25.45 1439.87,27.43 1440.71,29.40 1441.55,31.37 1442.39,33.34 1443.23,35.30 1444.08,37.26 1444.92,39.22 1445.76,41.17 1446.60,43.12 1447.44,45.06 1448.29,47.00 1449.13,48.94 1449.97,50.88 1450.81,52.81 1451.65,54.73 1452.50,56.66 1453.34,58.57 1454.18,60.49 1455.02,62.40 1455.86,64.30 1456.71,66.20 1457.55,68.10 1458.39,69.99 1459.23,71.88 1460.08,73.76 1460.92,75.64 1461.76,77.51 1462.60,79.37 1463.44,81.24 1464.29,83.09 1465.13,84.95 1465.97,86.79 1466.81,88.64 1467.65,90.47 1468.50,92.30 1469.34,94.13 1470.18,95.95 1471.02,97.77 1471.86,99.57 1472.71,101.38 1473.55,103.18 1474.39,104.97 1475.23,106.76 1476.07,108.54 1476.92,110.32 1477.76,112.09 1478.60,113.85 1479.44,115.61 1480.28,117.36 1481.13,119.11 1481.97,120.85 1482.81,122.58 1483.65,124.31 1484.49,126.04 1485.34,127.75 1486.18,129.46 1487.02,131.17 1487.86,132.87 1488.70,134.56 1489.55,136.25 1490.39,137.93 1491.23,139.60 1492.07,141.27 1492.91,142.93 1493.76,144.59 1494.60,146.24 1495.44,147.88 1496.28,149.52 1497.12,151.15 1497.97,152.77 1498.81,154.39 1499.65,156.00 1500.49,157.61 1501.34,159.20 1502.18,160.80 1503.02,162.38 1503.86,163.96 1504.70,165.54 1505.55,167.10 1506.39,168.66 1507.23,170.22 1508.07,171.77 1508.91,173.31 1509.76,174.84 1510.60,176.37 1511.44,177.89 1512.28,179.41 1513.12,180.92 1513.97,182.42 1514.81,183.92 1515.65,185.41 1516.49,186.89 1517.33,188.37 1518.18,189.84 1519.02,191.31 1519.86,192.77 1520.70,194.22 1521.54,195.66 1522.39,197.10 1523.23,198.54 1524.07,199.96 1524.91,201.38 1525.75,202.80 1526.60,204.21 1527.44,205.61 1528.28,207.00 1529.12,208.39 1529.96,209.77 1530.81,211.15 1531.65,212.52 1532.49,213.89 1533.33,215.24 1534.17,216.60 1535.02,217.94 1535.86,219.28 1536.70,220.61 1537.54,221.94 1538.39,223.26 1539.23,224.58 1540.07,225.89 1540.91,227.19 1541.75,228.49 1542.60,229.78 1543.44,231.06 1544.28,232.34 1545.12,233.62 1545.96,234.88 1546.81,236.14 1547.65,237.40 1548.49,238.65 1549.33,239.89 1550.17,241.13 1551.02,242.36 1551.86,243.59 1552.70,244.81 1553.54,246.02 1554.38,247.23 1555.23,248.43 1556.07,249.63 1556.91,250.82 1557.75,252.01 1558.59,253.19 1559.44,254.37 1560.28,255.54 1561.12,256.70 1561.96,257.86 1562.80,259.01 1563.65,260.16 1564.49,261.30 1565.33,262.44 1566.17,263.57 1567.01,264.69 1567.86,265.81 1568.70,266.93 1569.54,268.04 1570.38,269.14 1571.22,270.24 1572.07,271.34 1572.91,272.43 1573.75,273.51 1574.59,274.59 1575.44,275.66 1576.28,276.73 1577.12,277.79 1577.96,278.85 1578.80,279.90 1579.65,280.95 1580.49,282.00 1581.33,283.04 1582.17,284.07 1583.01,285.10 1583.86,286.12 1584.70,287.14 1585.54,288.16 1586.38,289.17 1587.22,290.17 1588.07,291.17 1588.91,292.17 1589.75,293.16 1590.59,294.14 1591.43,295.13 1592.28,296.10 1593.12,297.08 1593.96,298.04 1594.80,299.01 1595.64,299.97 1596.49,300.92 1597.33,301.87 1598.17,302.82 1599.01,303.76 1599.85,304.70 1600.70,305.63 1601.54,306.56 1602.38,307.49 1603.22,308.41 1604.06,309.33 1604.91,310.24 1605.75,311.15 1606.59,312.05 1607.43,312.95 1608.28,313.85 1609.12,314.74 1609.96,315.63 1610.80,316.52 1611.64,317.40 1612.49,318.28 1613.33,319.15 1614.17,320.02 1615.01,320.89 1615.85,321.75 1616.70,322.61 1617.54,323.46 1618.38,324.31 1619.22,325.16 1620.06,326.01 1620.91,326.85 1621.75,327.68 1622.59,328.52 1623.43,329.35 1624.27,330.18 1625.12,331.00 1625.96,331.82 1626.80,332.64 1627.64,333.45 1628.48,334.26 1629.33,335.07 1630.17,335.87 1631.01,336.68 1631.85,337.47 1632.69,338.27 1633.54,339.06 1634.38,339.85 1635.22,340.64 1636.06,341.42 1636.90,342.20 1637.75,342.98 1638.59,343.75 1639.43,344.52 1640.27,345.29 1641.11,346.06 1641.96,346.82 1642.80,347.58 1643.64,348.34 1644.48,349.09 1645.33,349.84 1646.17,350.59 1647.01,351.34 1647.85,352.09 1648.69,352.83 1649.54,353.57 1650.38,354.31 1651.22,355.04 1652.06,355.77 1652.90,356.50 1653.75,357.23 1654.59,357.96 1655.43,358.68 1656.27,359.40 1657.11,360.12 1657.96,360.84 1658.80,361.55 1659.64,362.26 1660.48,362.97 1661.32,363.68 1662.17,364.39 1663.01,365.09 1663.85,365.79 1664.69,366.49 1665.53,367.19 1666.38,367.89 1667.22,368.58 1668.06,369.28 1668.90,369.97 1669.74,370.66 1670.59,371.34 1671.43,372.03 1672.27,372.71 1673.11,373.40 1673.95,374.08 1674.80,374.76 1675.64,375.43 1676.48,376.11 1677.32,376.78 1678.16,377.46 1679.01,378.13 1679.85,378.80 1680.69,379.47 1681.53,380.13 1682.38,380.80 1683.22,381.47 1684.06,382.13 1684.90,382.79 1685.74,383.45 1686.59,384.11 1687.43,384.77 1688.27,385.43 1689.11,386.08 1689.95,386.74 1690.80,387.39 1691.64,388.05 1692.48,388.70 1693.32,389.35 1694.16,390.00 1695.01,390.65 1695.85,391.29 1696.69,391.94 1697.53,392.59 1698.37,393.23 1699.22,393.88 1700.06,394.52 1700.90,395.17 1701.74,395.81 1702.58,396.45 1703.43,397.09 1704.27,397.73 1705.11,398.37 1705.95,399.01 1706.79,399.65 1707.64,400.29 1708.48,400.92 1709.32,401.56 1710.16,402.20 1711.00,402.83 1711.85,403.47 1712.69,404.10 1713.53,404.74 1714.37,405.37 1715.21,406.00 1716.06,406.64 1716.90,407.27 1717.74,407.90 1718.58,408.54 1719.42,409.17 1720.27,409.80 1721.11,410.43 1721.95,411.06 1722.79,411.70 1723.64,412.33 1724.48,412.96 1725.32,413.59 1726.16,414.22 1727.00,414.85 1727.85,415.48 1728.69,416.11 1729.53,416.74 1730.37,417.38 1731.21,418.01 1732.06,418.64 1732.90,419.27 1733.74,419.90 1734.58,420.53 1735.42,421.16 1736.27,421.79 1737.11,422.43 1737.95,423.06 1738.79,423.69 1739.63,424.32 1740.48,424.96 1741.32,425.59 1742.16,426.22 1743.00,426.85 1743.84,427.49 1744.69,428.12 1745.53,428.76 1746.37,429.39 1747.21,430.03 1748.05,430.66 1748.90,431.30 1749.74,431.93 1750.58,432.57 1751.42,433.21 1752.26,433.85 1753.11,434.48 1753.95,435.12 1754.79,435.76 1755.63,436.40 1756.47,437.04 1757.32,437.68 1758.16,438.32 1759.00,438.97 1759.84,439.61 1760.69,440.25 1761.53,440.89 1762.37,441.54 1763.21,442.18 1764.05,442.83 1764.90,443.47 1765.74,444.12 1766.58,444.77 1767.42,445.42 1768.26,446.06 1769.11,446.71 1769.95,447.36 1770.79,448.01 1771.63,448.67 1772.47,449.32 1773.32,449.97 1774.16,450.62 1775.00,451.28" fill="none" stroke="#f9101c" stroke-width="1.7" stroke-linejoin="round" stroke-dasharray="2.8 5.7" clip-path="url(#clipb)"/>
<polyline points="1602.38,1.68 1603.22,3.52 1604.06,5.35 1604.91,7.18 1605.75,9.00 1606.59,10.81 1607.43,12.61 1608.28,14.40 1609.12,16.19 1609.96,17.96 1610.80,19.73 1611.64,21.50 1612.49,23.25 1613.33,25.00 1614.17,26.74 1615.01,28.47 1615.85,30.20 1616.70,31.91 1617.54,33.62 1618.38,35.33 1619.22,37.02 1620.06,38.71 1620.91,40.39 1621.75,42.07 1622.59,43.74 1623.43,45.40 1624.27,47.05 1625.12,48.70 1625.96,50.34 1626.80,51.98 1627.64,53.60 1628.48,55.23 1629.33,56.84 1630.17,58.45 1631.01,60.05 1631.85,61.65 1632.69,63.24 1633.54,64.82 1634.38,66.40 1635.22,67.97 1636.06,69.54 1636.90,71.10 1637.75,72.65 1638.59,74.20 1639.43,75.74 1640.27,77.28 1641.11,78.81 1641.96,80.34 1642.80,81.86 1643.64,83.37 1644.48,84.88 1645.33,86.39 1646.17,87.89 1647.01,89.38 1647.85,90.87 1648.69,92.36 1649.54,93.84 1650.38,95.31 1651.22,96.78 1652.06,98.25 1652.90,99.71 1653.75,101.16 1654.59,102.61 1655.43,104.06 1656.27,105.50 1657.11,106.94 1657.96,108.37 1658.80,109.80 1659.64,111.23 1660.48,112.65 1661.32,114.06 1662.17,115.47 1663.01,116.88 1663.85,118.29 1664.69,119.69 1665.53,121.08 1666.38,122.48 1667.22,123.87 1668.06,125.25 1668.90,126.63 1669.74,128.01 1670.59,129.39 1671.43,130.76 1672.27,132.13 1673.11,133.49 1673.95,134.85 1674.80,136.21 1675.64,137.57 1676.48,138.92 1677.32,140.27 1678.16,141.61 1679.01,142.96 1679.85,144.30 1680.69,145.63 1681.53,146.97 1682.38,148.30 1683.22,149.63 1684.06,150.96 1684.90,152.28 1685.74,153.60 1686.59,154.92 1687.43,156.24 1688.27,157.55 1689.11,158.87 1689.95,160.18 1690.80,161.48 1691.64,162.79 1692.48,164.09 1693.32,165.40 1694.16,166.70 1695.01,167.99 1695.85,169.29 1696.69,170.58 1697.53,171.88 1698.37,173.17 1699.22,174.46 1700.06,175.74 1700.90,177.03 1701.74,178.32 1702.58,179.60 1703.43,180.88 1704.27,182.16 1705.11,183.44 1705.95,184.72 1706.79,186.00 1707.64,187.27 1708.48,188.55 1709.32,189.82 1710.16,191.09 1711.00,192.36 1711.85,193.63 1712.69,194.90 1713.53,196.17 1714.37,197.44 1715.21,198.71 1716.06,199.98 1716.90,201.24 1717.74,202.51 1718.58,203.77 1719.42,205.04 1720.27,206.30 1721.11,207.56 1721.95,208.83 1722.79,210.09 1723.64,211.35 1724.48,212.62 1725.32,213.88 1726.16,215.14 1727.00,216.40 1727.85,217.66 1728.69,218.93 1729.53,220.19 1730.37,221.45 1731.21,222.71 1732.06,223.97 1732.90,225.24 1733.74,226.50 1734.58,227.76 1735.42,229.02 1736.27,230.29 1737.11,231.55 1737.95,232.82 1738.79,234.08 1739.63,235.34 1740.48,236.61 1741.32,237.88 1742.16,239.14 1743.00,240.41 1743.84,241.68 1744.69,242.95 1745.53,244.21 1746.37,245.48 1747.21,246.75 1748.05,248.03 1748.90,249.30 1749.74,250.57 1750.58,251.84 1751.42,253.12 1752.26,254.39 1753.11,255.67 1753.95,256.95 1754.79,258.23 1755.63,259.50 1756.47,260.78 1757.32,262.07 1758.16,263.35 1759.00,264.63 1759.84,265.92 1760.69,267.20 1761.53,268.49 1762.37,269.78 1763.21,271.07 1764.05,272.36 1764.90,273.65 1765.74,274.94 1766.58,276.24 1767.42,277.53 1768.26,278.83 1769.11,280.13 1769.95,281.43 1770.79,282.73 1771.63,284.03 1772.47,285.33 1773.32,286.64 1774.16,287.95 1775.00,289.25" fill="none" stroke="#be3cfa" stroke-width="1.45" stroke-linejoin="round" stroke-dasharray="9.3 3 2.3 3.4" clip-path="url(#clipb)"/>
<polyline points="1460.92,2.32 1461.76,4.44 1462.60,6.57 1463.44,8.68 1464.29,10.79 1465.13,12.90 1465.97,15.00 1466.81,17.09 1467.65,19.18 1468.50,21.26 1469.34,23.33 1470.18,25.40 1471.02,27.47 1471.86,29.52 1472.71,31.57 1473.55,33.62 1474.39,35.65 1475.23,37.68 1476.07,39.71 1476.92,41.73 1477.76,43.74 1478.60,45.74 1479.44,47.74 1480.28,49.73 1481.13,51.72 1481.97,53.70 1482.81,55.67 1483.65,57.63 1484.49,59.59 1485.34,61.54 1486.18,63.49 1487.02,65.42 1487.86,67.36 1488.70,69.28 1489.55,71.19 1490.39,73.10 1491.23,75.01 1492.07,76.90 1492.91,78.79 1493.76,80.67 1494.60,82.55 1495.44,84.41 1496.28,86.27 1497.12,88.13 1497.97,89.97 1498.81,91.81 1499.65,93.64 1500.49,95.47 1501.34,97.28 1502.18,99.09 1503.02,100.89 1503.86,102.69 1504.70,104.48 1505.55,106.26 1506.39,108.03 1507.23,109.80 1508.07,111.56 1508.91,113.31 1509.76,115.05 1510.60,116.79 1511.44,118.52 1512.28,120.24 1513.12,121.96 1513.97,123.67 1514.81,125.37 1515.65,127.06 1516.49,128.75 1517.33,130.43 1518.18,132.10 1519.02,133.76 1519.86,135.42 1520.70,137.07 1521.54,138.71 1522.39,140.35 1523.23,141.98 1524.07,143.60 1524.91,145.21 1525.75,146.82 1526.60,148.42 1527.44,150.01 1528.28,151.60 1529.12,153.18 1529.96,154.75 1530.81,156.31 1531.65,157.87 1532.49,159.42 1533.33,160.96 1534.17,162.50 1535.02,164.03 1535.86,165.55 1536.70,167.07 1537.54,168.58 1538.39,170.08 1539.23,171.57 1540.07,173.06 1540.91,174.54 1541.75,176.01 1542.60,177.48 1543.44,178.94 1544.28,180.39 1545.12,181.84 1545.96,183.28 1546.81,184.71 1547.65,186.14 1548.49,187.56 1549.33,188.97 1550.17,190.38 1551.02,191.78 1551.86,193.17 1552.70,194.56 1553.54,195.94 1554.38,197.31 1555.23,198.68 1556.07,200.04 1556.91,201.40 1557.75,202.74 1558.59,204.08 1559.44,205.42 1560.28,206.75 1561.12,208.07 1561.96,209.39 1562.80,210.70 1563.65,212.00 1564.49,213.30 1565.33,214.59 1566.17,215.88 1567.01,217.16 1567.86,218.43 1568.70,219.70 1569.54,220.96 1570.38,222.21 1571.22,223.46 1572.07,224.70 1572.91,225.94 1573.75,227.17 1574.59,228.40 1575.44,229.62 1576.28,230.83 1577.12,232.04 1577.96,233.24 1578.80,234.44 1579.65,235.63 1580.49,236.82 1581.33,238.00 1582.17,239.17 1583.01,240.34 1583.86,241.51 1584.70,242.66 1585.54,243.82 1586.38,244.96 1587.22,246.11 1588.07,247.24 1588.91,248.38 1589.75,249.50 1590.59,250.62 1591.43,251.74 1592.28,252.85 1593.12,253.95 1593.96,255.05 1594.80,256.15 1595.64,257.24 1596.49,258.33 1597.33,259.41 1598.17,260.48 1599.01,261.55 1599.85,262.62 1600.70,263.68 1601.54,264.74 1602.38,265.79 1603.22,266.83 1604.06,267.88 1604.91,268.91 1605.75,269.95 1606.59,270.97 1607.43,272.00 1608.28,273.02 1609.12,274.03 1609.96,275.04 1610.80,276.05 1611.64,277.05 1612.49,278.05 1613.33,279.04 1614.17,280.03 1615.01,281.01 1615.85,281.99 1616.70,282.97 1617.54,283.94 1618.38,284.91 1619.22,285.87 1620.06,286.83 1620.91,287.79 1621.75,288.74 1622.59,289.68 1623.43,290.63 1624.27,291.57 1625.12,292.50 1625.96,293.44 1626.80,294.37 1627.64,295.29 1628.48,296.21 1629.33,297.13 1630.17,298.04 1631.01,298.95 1631.85,299.86 1632.69,300.76 1633.54,301.66 1634.38,302.56 1635.22,303.45 1636.06,304.34 1636.90,305.23 1637.75,306.11 1638.59,306.99 1639.43,307.87 1640.27,308.74 1641.11,309.61 1641.96,310.48 1642.80,311.34 1643.64,312.21 1644.48,313.06 1645.33,313.92 1646.17,314.77 1647.01,315.62 1647.85,316.47 1648.69,317.31 1649.54,318.15 1650.38,318.99 1651.22,319.82 1652.06,320.66 1652.90,321.49 1653.75,322.31 1654.59,323.14 1655.43,323.96 1656.27,324.78 1657.11,325.59 1657.96,326.41 1658.80,327.22 1659.64,328.03 1660.48,328.84 1661.32,329.64 1662.17,330.44 1663.01,331.24 1663.85,332.04 1664.69,332.84 1665.53,333.63 1666.38,334.42 1667.22,335.21 1668.06,336.00 1668.90,336.79 1669.74,337.57 1670.59,338.35 1671.43,339.13 1672.27,339.91 1673.11,340.68 1673.95,341.45 1674.80,342.23 1675.64,343.00 1676.48,343.76 1677.32,344.53 1678.16,345.30 1679.01,346.06 1679.85,346.82 1680.69,347.58 1681.53,348.34 1682.38,349.10 1683.22,349.85 1684.06,350.61 1684.90,351.36 1685.74,352.11 1686.59,352.86 1687.43,353.61 1688.27,354.35 1689.11,355.10 1689.95,355.84 1690.80,356.59 1691.64,357.33 1692.48,358.07 1693.32,358.81 1694.16,359.55 1695.01,360.29 1695.85,361.02 1696.69,361.76 1697.53,362.49 1698.37,363.22 1699.22,363.96 1700.06,364.69 1700.90,365.42 1701.74,366.15 1702.58,366.88 1703.43,367.61 1704.27,368.33 1705.11,369.06 1705.95,369.79 1706.79,370.51 1707.64,371.24 1708.48,371.96 1709.32,372.69 1710.16,373.41 1711.00,374.13 1711.85,374.85 1712.69,375.57 1713.53,376.30 1714.37,377.02 1715.21,377.74 1716.06,378.46 1716.90,379.18 1717.74,379.89 1718.58,380.61 1719.42,381.33 1720.27,382.05 1721.11,382.77 1721.95,383.49 1722.79,384.20 1723.64,384.92 1724.48,385.64 1725.32,386.36 1726.16,387.07 1727.00,387.79 1727.85,388.51 1728.69,389.22 1729.53,389.94 1730.37,390.66 1731.21,391.38 1732.06,392.09 1732.90,392.81 1733.74,393.53 1734.58,394.24 1735.42,394.96 1736.27,395.68 1737.11,396.40 1737.95,397.12 1738.79,397.83 1739.63,398.55 1740.48,399.27 1741.32,399.99 1742.16,400.71 1743.00,401.43 1743.84,402.15 1744.69,402.87 1745.53,403.59 1746.37,404.31 1747.21,405.04 1748.05,405.76 1748.90,406.48 1749.74,407.20 1750.58,407.93 1751.42,408.65 1752.26,409.38 1753.11,410.10 1753.95,410.83 1754.79,411.55 1755.63,412.28 1756.47,413.01 1757.32,413.74 1758.16,414.46 1759.00,415.19 1759.84,415.92 1760.69,416.65 1761.53,417.38 1762.37,418.12 1763.21,418.85 1764.05,419.58 1764.90,420.32 1765.74,421.05 1766.58,421.79 1767.42,422.52 1768.26,423.26 1769.11,424.00 1769.95,424.74 1770.79,425.47 1771.63,426.21 1772.47,426.96 1773.32,427.70 1774.16,428.44 1775.00,429.18" fill="none" stroke="#2a3fa8" stroke-width="1.45" stroke-linejoin="round" stroke-dasharray="6.8 1.5 1.8 1.6" clip-path="url(#clipb)"/>
<polyline points="1499.65,3.57 1500.49,5.71 1501.34,7.84 1502.18,9.96 1503.02,12.08 1503.86,14.18 1504.70,16.28 1505.55,18.37 1506.39,20.45 1507.23,22.52 1508.07,24.59 1508.91,26.64 1509.76,28.69 1510.60,30.73 1511.44,32.76 1512.28,34.78 1513.12,36.79 1513.97,38.80 1514.81,40.79 1515.65,42.78 1516.49,44.76 1517.33,46.73 1518.18,48.69 1519.02,50.64 1519.86,52.59 1520.70,54.52 1521.54,56.45 1522.39,58.37 1523.23,60.28 1524.07,62.18 1524.91,64.08 1525.75,65.96 1526.60,67.84 1527.44,69.71 1528.28,71.57 1529.12,73.42 1529.96,75.27 1530.81,77.10 1531.65,78.93 1532.49,80.75 1533.33,82.56 1534.17,84.36 1535.02,86.16 1535.86,87.94 1536.70,89.72 1537.54,91.49 1538.39,93.25 1539.23,95.00 1540.07,96.75 1540.91,98.49 1541.75,100.22 1542.60,101.94 1543.44,103.65 1544.28,105.36 1545.12,107.05 1545.96,108.74 1546.81,110.43 1547.65,112.10 1548.49,113.76 1549.33,115.42 1550.17,117.07 1551.02,118.72 1551.86,120.35 1552.70,121.98 1553.54,123.60 1554.38,125.21 1555.23,126.81 1556.07,128.41 1556.91,130.00 1557.75,131.58 1558.59,133.15 1559.44,134.72 1560.28,136.28 1561.12,137.83 1561.96,139.38 1562.80,140.91 1563.65,142.44 1564.49,143.97 1565.33,145.48 1566.17,146.99 1567.01,148.49 1567.86,149.98 1568.70,151.47 1569.54,152.95 1570.38,154.42 1571.22,155.89 1572.07,157.35 1572.91,158.80 1573.75,160.25 1574.59,161.68 1575.44,163.11 1576.28,164.54 1577.12,165.96 1577.96,167.37 1578.80,168.77 1579.65,170.17 1580.49,171.56 1581.33,172.95 1582.17,174.33 1583.01,175.70 1583.86,177.06 1584.70,178.42 1585.54,179.77 1586.38,181.12 1587.22,182.46 1588.07,183.79 1588.91,185.12 1589.75,186.44 1590.59,187.76 1591.43,189.07 1592.28,190.37 1593.12,191.67 1593.96,192.96 1594.80,194.24 1595.64,195.52 1596.49,196.80 1597.33,198.06 1598.17,199.33 1599.01,200.58 1599.85,201.83 1600.70,203.08 1601.54,204.32 1602.38,205.55 1603.22,206.78 1604.06,208.00 1604.91,209.22 1605.75,210.43 1606.59,211.64 1607.43,212.84 1608.28,214.03 1609.12,215.22 1609.96,216.41 1610.80,217.59 1611.64,218.76 1612.49,219.93 1613.33,221.10 1614.17,222.26 1615.01,223.41 1615.85,224.56 1616.70,225.71 1617.54,226.85 1618.38,227.98 1619.22,229.12 1620.06,230.24 1620.91,231.36 1621.75,232.48 1622.59,233.59 1623.43,234.70 1624.27,235.80 1625.12,236.90 1625.96,237.99 1626.80,239.08 1627.64,240.17 1628.48,241.25 1629.33,242.33 1630.17,243.40 1631.01,244.47 1631.85,245.53 1632.69,246.59 1633.54,247.65 1634.38,248.70 1635.22,249.75 1636.06,250.79 1636.90,251.83 1637.75,252.87 1638.59,253.90 1639.43,254.93 1640.27,255.95 1641.11,256.97 1641.96,257.99 1642.80,259.01 1643.64,260.02 1644.48,261.02 1645.33,262.03 1646.17,263.03 1647.01,264.02 1647.85,265.02 1648.69,266.00 1649.54,266.99 1650.38,267.97 1651.22,268.95 1652.06,269.93 1652.90,270.90 1653.75,271.87 1654.59,272.84 1655.43,273.81 1656.27,274.77 1657.11,275.73 1657.96,276.68 1658.80,277.63 1659.64,278.58 1660.48,279.53 1661.32,280.48 1662.17,281.42 1663.01,282.36 1663.85,283.29 1664.69,284.23 1665.53,285.16 1666.38,286.08 1667.22,287.01 1668.06,287.93 1668.90,288.86 1669.74,289.77 1670.59,290.69 1671.43,291.61 1672.27,292.52 1673.11,293.43 1673.95,294.34 1674.80,295.24 1675.64,296.14 1676.48,297.05 1677.32,297.94 1678.16,298.84 1679.01,299.74 1679.85,300.63 1680.69,301.52 1681.53,302.41 1682.38,303.30 1683.22,304.19 1684.06,305.07 1684.90,305.95 1685.74,306.84 1686.59,307.71 1687.43,308.59 1688.27,309.47 1689.11,310.34 1689.95,311.22 1690.80,312.09 1691.64,312.96 1692.48,313.83 1693.32,314.70 1694.16,315.56 1695.01,316.43 1695.85,317.29 1696.69,318.16 1697.53,319.02 1698.37,319.88 1699.22,320.74 1700.06,321.60 1700.90,322.45 1701.74,323.31 1702.58,324.17 1703.43,325.02 1704.27,325.87 1705.11,326.73 1705.95,327.58 1706.79,328.43 1707.64,329.28 1708.48,330.13 1709.32,330.98 1710.16,331.83 1711.00,332.68 1711.85,333.52 1712.69,334.37 1713.53,335.22 1714.37,336.06 1715.21,336.91 1716.06,337.75 1716.90,338.59 1717.74,339.44 1718.58,340.28 1719.42,341.12 1720.27,341.97 1721.11,342.81 1721.95,343.65 1722.79,344.49 1723.64,345.34 1724.48,346.18 1725.32,347.02 1726.16,347.86 1727.00,348.70 1727.85,349.54 1728.69,350.38 1729.53,351.23 1730.37,352.07 1731.21,352.91 1732.06,353.75 1732.90,354.59 1733.74,355.43 1734.58,356.27 1735.42,357.12 1736.27,357.96 1737.11,358.80 1737.95,359.64 1738.79,360.49 1739.63,361.33 1740.48,362.17 1741.32,363.02 1742.16,363.86 1743.00,364.71 1743.84,365.55 1744.69,366.40 1745.53,367.24 1746.37,368.09 1747.21,368.94 1748.05,369.78 1748.90,370.63 1749.74,371.48 1750.58,372.33 1751.42,373.18 1752.26,374.03 1753.11,374.88 1753.95,375.73 1754.79,376.58 1755.63,377.44 1756.47,378.29 1757.32,379.14 1758.16,380.00 1759.00,380.85 1759.84,381.71 1760.69,382.57 1761.53,383.43 1762.37,384.28 1763.21,385.14 1764.05,386.00 1764.90,386.87 1765.74,387.73 1766.58,388.59 1767.42,389.45 1768.26,390.32 1769.11,391.18 1769.95,392.05 1770.79,392.92 1771.63,393.79 1772.47,394.66 1773.32,395.53 1774.16,396.40 1775.00,397.27" fill="none" stroke="#000000" stroke-width="1.45" stroke-linejoin="round" stroke-dasharray="8.2 6.1" clip-path="url(#clipb)"/>
<polyline points="1642.80,2.14 1643.64,3.89 1644.48,5.62 1645.33,7.35 1646.17,9.08 1647.01,10.80 1647.85,12.51 1648.69,14.22 1649.54,15.92 1650.38,17.61 1651.22,19.30 1652.06,20.99 1652.90,22.67 1653.75,24.34 1654.59,26.01 1655.43,27.67 1656.27,29.33 1657.11,30.98 1657.96,32.63 1658.80,34.28 1659.64,35.91 1660.48,37.55 1661.32,39.18 1662.17,40.80 1663.01,42.42 1663.85,44.04 1664.69,45.65 1665.53,47.25 1666.38,48.85 1667.22,50.45 1668.06,52.04 1668.90,53.63 1669.74,55.22 1670.59,56.80 1671.43,58.38 1672.27,59.95 1673.11,61.52 1673.95,63.09 1674.80,64.65 1675.64,66.21 1676.48,67.76 1677.32,69.31 1678.16,70.86 1679.01,72.40 1679.85,73.95 1680.69,75.48 1681.53,77.02 1682.38,78.55 1683.22,80.08 1684.06,81.61 1684.90,83.13 1685.74,84.65 1686.59,86.17 1687.43,87.68 1688.27,89.19 1689.11,90.70 1689.95,92.21 1690.80,93.71 1691.64,95.21 1692.48,96.71 1693.32,98.21 1694.16,99.71 1695.01,101.20 1695.85,102.69 1696.69,104.18 1697.53,105.66 1698.37,107.15 1699.22,108.63 1700.06,110.11 1700.90,111.59 1701.74,113.07 1702.58,114.54 1703.43,116.02 1704.27,117.49 1705.11,118.96 1705.95,120.43 1706.79,121.90 1707.64,123.37 1708.48,124.83 1709.32,126.30 1710.16,127.76 1711.00,129.22 1711.85,130.68 1712.69,132.14 1713.53,133.60 1714.37,135.06 1715.21,136.52 1716.06,137.98 1716.90,139.43 1717.74,140.89 1718.58,142.34 1719.42,143.80 1720.27,145.25 1721.11,146.70 1721.95,148.16 1722.79,149.61 1723.64,151.06 1724.48,152.51 1725.32,153.96 1726.16,155.42 1727.00,156.87 1727.85,158.32 1728.69,159.77 1729.53,161.22 1730.37,162.67 1731.21,164.12 1732.06,165.58 1732.90,167.03 1733.74,168.48 1734.58,169.93 1735.42,171.38 1736.27,172.84 1737.11,174.29 1737.95,175.74 1738.79,177.20 1739.63,178.65 1740.48,180.11 1741.32,181.56 1742.16,183.02 1743.00,184.48 1743.84,185.93 1744.69,187.39 1745.53,188.85 1746.37,190.31 1747.21,191.77 1748.05,193.23 1748.90,194.70 1749.74,196.16 1750.58,197.63 1751.42,199.09 1752.26,200.56 1753.11,202.03 1753.95,203.49 1754.79,204.96 1755.63,206.44 1756.47,207.91 1757.32,209.38 1758.16,210.86 1759.00,212.33 1759.84,213.81 1760.69,215.29 1761.53,216.77 1762.37,218.25 1763.21,219.73 1764.05,221.22 1764.90,222.70 1765.74,224.19 1766.58,225.68 1767.42,227.17 1768.26,228.66 1769.11,230.15 1769.95,231.65 1770.79,233.14 1771.63,234.64 1772.47,236.14 1773.32,237.64 1774.16,239.14 1775.00,240.65" fill="none" stroke="#139b16" stroke-width="1.45" stroke-linejoin="round" stroke-dasharray="4.1 2.5" clip-path="url(#clipb)"/>
<g clip-path="url(#clipb)">
<polyline points="1135.05,605.34 1138.41,605.02 1141.78,604.66 1145.15,604.24 1148.52,603.77 1151.89,603.27 1155.25,602.72 1158.62,602.12 1161.99,601.49 1165.36,600.83 1168.73,600.13 1172.10,599.39 1175.46,598.63 1178.83,597.83 1182.20,597.01 1185.57,596.17 1188.94,595.30 1192.30,594.40 1195.67,593.49 1199.04,592.56 1202.41,591.62 1205.78,590.64 1209.15,589.61 1212.51,588.53 1215.88,587.39 1219.25,586.20 1222.62,584.96 1225.99,583.67 1229.35,582.33 1232.72,580.93 1236.09,579.48 1239.46,577.98 1242.83,576.43 1246.20,574.83 1249.56,573.17 1252.93,571.47 1256.30,569.71 1259.67,567.91 1263.04,566.05 1266.40,564.14 1269.77,562.18 1273.14,560.17 1276.51,558.09 1279.88,555.95 1283.25,553.72 1286.61,551.41 1289.98,549.01 1293.35,546.51 1296.72,543.91 1300.09,541.20 1303.45,538.36 1306.82,535.40 1310.19,532.30 1313.56,529.07 1316.93,525.69 1320.30,522.15 1323.66,518.45 1327.03,514.59 1330.40,510.55 1333.77,506.33 1337.14,501.92 1340.50,497.40 1343.87,492.86 1347.24,488.31 1350.61,483.74 1353.98,479.16 1357.35,474.57 1360.71,469.96 1364.08,465.35 1367.45,460.73 1370.82,456.11 1374.19,451.49 1377.55,446.86 1380.92,442.23 1384.29,437.61 1387.66,432.99 1391.03,428.38 1394.40,423.78 1397.76,419.18 1401.13,414.60 1404.50,410.02 1407.87,405.46 1411.24,400.90 1414.60,396.34 1417.97,391.79 1421.34,387.24 1424.71,382.70 1428.08,378.16 1431.45,373.63 1434.81,369.11 1438.18,364.59 1441.55,360.08 1444.92,355.58 1448.29,351.08 1451.65,346.60 1455.02,342.13 1458.39,337.66 1461.76,333.21 1465.13,328.77 1468.50,324.34 1471.86,319.92 1475.23,315.73 1478.60,311.97 1481.97,308.60 1485.34,305.62 1488.70,302.99 1492.07,300.69 1495.44,298.71 1498.81,297.02 1502.18,295.59 1505.55,294.41 1508.91,293.45 1512.28,292.69 1515.65,292.11 1519.02,291.68 1522.39,291.38 1525.75,291.20 1529.12,291.09 1532.49,291.06 1535.86,291.06 1539.23,291.08 1542.60,291.17 1545.96,291.39 1549.33,291.74 1552.70,292.22 1556.07,292.83 1559.44,293.58 1562.80,294.46 1566.17,295.48 1569.54,296.63 1572.91,297.92 1576.28,299.35 1579.65,300.91 1583.01,302.62 1586.38,304.46 1589.75,306.45 1593.12,308.58 1596.49,310.85 1599.85,313.26 1603.22,315.82 1606.59,318.53" fill="none" stroke="#f9101c" stroke-width="1.55" stroke-linejoin="round"/>
<line x1="1135.05" y1="604.95" x2="1135.05" y2="605.74" stroke="#f9101c" stroke-width="1.5" stroke-linecap="butt"/>
<line x1="1128.80" y1="604.95" x2="1141.30" y2="604.95" stroke="#f9101c" stroke-width="1.5" stroke-linecap="butt"/>
<line x1="1128.80" y1="605.74" x2="1141.30" y2="605.74" stroke="#f9101c" stroke-width="1.5" stroke-linecap="butt"/>
<line x1="1202.41" y1="590.54" x2="1202.41" y2="592.70" stroke="#f9101c" stroke-width="1.5" stroke-linecap="butt"/>
<line x1="1196.16" y1="590.54" x2="1208.66" y2="590.54" stroke="#f9101c" stroke-width="1.5" stroke-linecap="butt"/>
<line x1="1196.16" y1="592.70" x2="1208.66" y2="592.70" stroke="#f9101c" stroke-width="1.5" stroke-linecap="butt"/>
<line x1="1269.77" y1="559.63" x2="1269.77" y2="564.74" stroke="#f9101c" stroke-width="1.5" stroke-linecap="butt"/>
<line x1="1263.52" y1="559.63" x2="1276.02" y2="559.63" stroke="#f9101c" stroke-width="1.5" stroke-linecap="butt"/>
<line x1="1263.52" y1="564.74" x2="1276.02" y2="564.74" stroke="#f9101c" stroke-width="1.5" stroke-linecap="butt"/>
<line x1="1337.14" y1="496.35" x2="1337.14" y2="507.49" stroke="#f9101c" stroke-width="1.5" stroke-linecap="butt"/>
<line x1="1330.89" y1="496.35" x2="1343.39" y2="496.35" stroke="#f9101c" stroke-width="1.5" stroke-linecap="butt"/>
<line x1="1330.89" y1="507.49" x2="1343.39" y2="507.49" stroke="#f9101c" stroke-width="1.5" stroke-linecap="butt"/>
<line x1="1404.50" y1="399.86" x2="1404.50" y2="420.19" stroke="#f9101c" stroke-width="1.5" stroke-linecap="butt"/>
<line x1="1398.25" y1="399.86" x2="1410.75" y2="399.86" stroke="#f9101c" stroke-width="1.5" stroke-linecap="butt"/>
<line x1="1398.25" y1="420.19" x2="1410.75" y2="420.19" stroke="#f9101c" stroke-width="1.5" stroke-linecap="butt"/>
<line x1="1471.86" y1="305.25" x2="1471.86" y2="334.59" stroke="#f9101c" stroke-width="1.5" stroke-linecap="butt"/>
<line x1="1465.61" y1="305.25" x2="1478.11" y2="305.25" stroke="#f9101c" stroke-width="1.5" stroke-linecap="butt"/>
<line x1="1465.61" y1="334.59" x2="1478.11" y2="334.59" stroke="#f9101c" stroke-width="1.5" stroke-linecap="butt"/>
<line x1="1539.23" y1="274.97" x2="1539.23" y2="307.19" stroke="#f9101c" stroke-width="1.5" stroke-linecap="butt"/>
<line x1="1532.98" y1="274.97" x2="1545.48" y2="274.97" stroke="#f9101c" stroke-width="1.5" stroke-linecap="butt"/>
<line x1="1532.98" y1="307.19" x2="1545.48" y2="307.19" stroke="#f9101c" stroke-width="1.5" stroke-linecap="butt"/>
<line x1="1606.59" y1="303.79" x2="1606.59" y2="333.27" stroke="#f9101c" stroke-width="1.5" stroke-linecap="butt"/>
<line x1="1600.34" y1="303.79" x2="1612.84" y2="303.79" stroke="#f9101c" stroke-width="1.5" stroke-linecap="butt"/>
<line x1="1600.34" y1="333.27" x2="1612.84" y2="333.27" stroke="#f9101c" stroke-width="1.5" stroke-linecap="butt"/>
<circle cx="1135.05" cy="605.34" r="6.30" fill="#f9101c"/>
<circle cx="1202.41" cy="591.62" r="6.30" fill="#f9101c"/>
<circle cx="1269.77" cy="562.18" r="6.30" fill="#f9101c"/>
<circle cx="1337.14" cy="501.92" r="6.30" fill="#f9101c"/>
<circle cx="1404.50" cy="410.02" r="6.30" fill="#f9101c"/>
<circle cx="1471.86" cy="319.92" r="6.30" fill="#f9101c"/>
<circle cx="1539.23" cy="291.08" r="6.30" fill="#f9101c"/>
<circle cx="1606.59" cy="318.53" r="6.30" fill="#f9101c"/>
<polyline points="1135.05,611.18 1138.41,611.15 1141.78,611.10 1145.15,611.04 1148.52,610.97 1151.89,610.89 1155.25,610.80 1158.62,610.71 1161.99,610.60 1165.36,610.48 1168.73,610.36 1172.10,610.22 1175.46,610.08 1178.83,609.94 1182.20,609.79 1185.57,609.63 1188.94,609.47 1192.30,609.30 1195.67,609.14 1199.04,608.97 1202.41,608.79 1205.78,608.61 1209.15,608.40 1212.51,608.18 1215.88,607.95 1219.25,607.70 1222.62,607.43 1225.99,607.15 1229.35,606.85 1232.72,606.55 1236.09,606.23 1239.46,605.91 1242.83,605.57 1246.20,605.23 1249.56,604.88 1252.93,604.52 1256.30,604.16 1259.67,603.80 1263.04,603.43 1266.40,603.06 1269.77,602.69 1273.14,602.29 1276.51,601.84 1279.88,601.35 1283.25,600.80 1286.61,600.21 1289.98,599.58 1293.35,598.91 1296.72,598.20 1300.09,597.46 1303.45,596.69 1306.82,595.89 1310.19,595.06 1313.56,594.21 1316.93,593.35 1320.30,592.46 1323.66,591.55 1327.03,590.64 1330.40,589.71 1333.77,588.78 1337.14,587.84 1340.50,586.86 1343.87,585.79 1347.24,584.63 1350.61,583.39 1353.98,582.06 1357.35,580.65 1360.71,579.15 1364.08,577.57 1367.45,575.91 1370.82,574.15 1374.19,572.32 1377.55,570.40 1380.92,568.39 1384.29,566.31 1387.66,564.14 1391.03,561.88 1394.40,559.55 1397.76,557.13 1401.13,554.62 1404.50,552.04 1407.87,549.34 1411.24,546.50 1414.60,543.54 1417.97,540.44 1421.34,537.22 1424.71,533.89 1428.08,530.45 1431.45,526.90 1434.81,523.26 1438.18,519.53 1441.55,515.72 1444.92,511.82 1448.29,507.86 1451.65,503.83 1455.02,499.73 1458.39,495.59 1461.76,491.39 1465.13,487.15 1468.50,482.88 1471.86,478.58 1475.23,474.16 1478.60,469.55 1481.97,464.77 1485.34,459.85 1488.70,454.80 1492.07,449.64 1495.44,444.41 1498.81,439.11 1502.18,433.78 1505.55,428.43 1508.91,423.09 1512.28,417.77 1515.65,412.50 1519.02,407.31 1522.39,402.21 1525.75,397.22 1529.12,392.37 1532.49,387.68 1535.86,383.17 1539.23,378.86 1542.60,374.73 1545.96,370.74 1549.33,366.87 1552.70,363.13 1556.07,359.52 1559.44,356.03 1562.80,352.66 1566.17,349.41 1569.54,346.27 1572.91,343.24 1576.28,340.32 1579.65,337.50 1583.01,334.79 1586.38,332.17 1589.75,329.65 1593.12,327.23 1596.49,324.89 1599.85,322.64 1603.22,320.48 1606.59,318.40" fill="none" stroke="#000000" stroke-width="1.55" stroke-linejoin="round"/>
<line x1="1135.05" y1="611.07" x2="1135.05" y2="611.28" stroke="#000000" stroke-width="1.5" stroke-linecap="butt"/>
<line x1="1128.80" y1="611.07" x2="1141.30" y2="611.07" stroke="#000000" stroke-width="1.5" stroke-linecap="butt"/>
<line x1="1128.80" y1="611.28" x2="1141.30" y2="611.28" stroke="#000000" stroke-width="1.5" stroke-linecap="butt"/>
<line x1="1202.41" y1="608.57" x2="1202.41" y2="609.02" stroke="#000000" stroke-width="1.5" stroke-linecap="butt"/>
<line x1="1196.16" y1="608.57" x2="1208.66" y2="608.57" stroke="#000000" stroke-width="1.5" stroke-linecap="butt"/>
<line x1="1196.16" y1="609.02" x2="1208.66" y2="609.02" stroke="#000000" stroke-width="1.5" stroke-linecap="butt"/>
<line x1="1269.77" y1="602.16" x2="1269.77" y2="603.22" stroke="#000000" stroke-width="1.5" stroke-linecap="butt"/>
<line x1="1263.52" y1="602.16" x2="1276.02" y2="602.16" stroke="#000000" stroke-width="1.5" stroke-linecap="butt"/>
<line x1="1263.52" y1="603.22" x2="1276.02" y2="603.22" stroke="#000000" stroke-width="1.5" stroke-linecap="butt"/>
<line x1="1337.14" y1="586.57" x2="1337.14" y2="589.11" stroke="#000000" stroke-width="1.5" stroke-linecap="butt"/>
<line x1="1330.89" y1="586.57" x2="1343.39" y2="586.57" stroke="#000000" stroke-width="1.5" stroke-linecap="butt"/>
<line x1="1330.89" y1="589.11" x2="1343.39" y2="589.11" stroke="#000000" stroke-width="1.5" stroke-linecap="butt"/>
<line x1="1404.50" y1="548.98" x2="1404.50" y2="555.10" stroke="#000000" stroke-width="1.5" stroke-linecap="butt"/>
<line x1="1398.25" y1="548.98" x2="1410.75" y2="548.98" stroke="#000000" stroke-width="1.5" stroke-linecap="butt"/>
<line x1="1398.25" y1="555.10" x2="1410.75" y2="555.10" stroke="#000000" stroke-width="1.5" stroke-linecap="butt"/>
<line x1="1471.86" y1="471.84" x2="1471.86" y2="485.31" stroke="#000000" stroke-width="1.5" stroke-linecap="butt"/>
<line x1="1465.61" y1="471.84" x2="1478.11" y2="471.84" stroke="#000000" stroke-width="1.5" stroke-linecap="butt"/>
<line x1="1465.61" y1="485.31" x2="1478.11" y2="485.31" stroke="#000000" stroke-width="1.5" stroke-linecap="butt"/>
<line x1="1539.23" y1="367.14" x2="1539.23" y2="390.59" stroke="#000000" stroke-width="1.5" stroke-linecap="butt"/>
<line x1="1532.98" y1="367.14" x2="1545.48" y2="367.14" stroke="#000000" stroke-width="1.5" stroke-linecap="butt"/>
<line x1="1532.98" y1="390.59" x2="1545.48" y2="390.59" stroke="#000000" stroke-width="1.5" stroke-linecap="butt"/>
<line x1="1606.59" y1="303.65" x2="1606.59" y2="333.14" stroke="#000000" stroke-width="1.5" stroke-linecap="butt"/>
<line x1="1600.34" y1="303.65" x2="1612.84" y2="303.65" stroke="#000000" stroke-width="1.5" stroke-linecap="butt"/>
<line x1="1600.34" y1="333.14" x2="1612.84" y2="333.14" stroke="#000000" stroke-width="1.5" stroke-linecap="butt"/>
<rect x="1129.45" y="605.58" width="11.20" height="11.20" fill="#000000"/>
<rect x="1196.81" y="603.19" width="11.20" height="11.20" fill="#000000"/>
<rect x="1264.17" y="597.09" width="11.20" height="11.20" fill="#000000"/>
<rect x="1331.54" y="582.24" width="11.20" height="11.20" fill="#000000"/>
<rect x="1398.90" y="546.44" width="11.20" height="11.20" fill="#000000"/>
<rect x="1466.26" y="472.98" width="11.20" height="11.20" fill="#000000"/>
<rect x="1533.63" y="373.26" width="11.20" height="11.20" fill="#000000"/>
<rect x="1600.99" y="312.80" width="11.20" height="11.20" fill="#000000"/>
<polyline points="1135.05,612.17 1138.41,612.16 1141.78,612.15 1145.15,612.13 1148.52,612.10 1151.89,612.08 1155.25,612.04 1158.62,612.00 1161.99,611.96 1165.36,611.92 1168.73,611.87 1172.10,611.82 1175.46,611.76 1178.83,611.71 1182.20,611.65 1185.57,611.59 1188.94,611.53 1192.30,611.46 1195.67,611.40 1199.04,611.33 1202.41,611.27 1205.78,611.19 1209.15,611.12 1212.51,611.03 1215.88,610.93 1219.25,610.83 1222.62,610.72 1225.99,610.61 1229.35,610.49 1232.72,610.36 1236.09,610.23 1239.46,610.10 1242.83,609.96 1246.20,609.82 1249.56,609.68 1252.93,609.53 1256.30,609.38 1259.67,609.23 1263.04,609.08 1266.40,608.93 1269.77,608.78 1273.14,608.61 1276.51,608.42 1279.88,608.20 1283.25,607.95 1286.61,607.68 1289.98,607.39 1293.35,607.08 1296.72,606.75 1300.09,606.41 1303.45,606.05 1306.82,605.67 1310.19,605.29 1313.56,604.90 1316.93,604.49 1320.30,604.08 1323.66,603.67 1327.03,603.25 1330.40,602.83 1333.77,602.42 1337.14,602.00 1340.50,601.55 1343.87,601.03 1347.24,600.45 1350.61,599.81 1353.98,599.11 1357.35,598.35 1360.71,597.55 1364.08,596.70 1367.45,595.81 1370.82,594.87 1374.19,593.90 1377.55,592.90 1380.92,591.87 1384.29,590.82 1387.66,589.74 1391.03,588.64 1394.40,587.53 1397.76,586.41 1401.13,585.28 1404.50,584.14 1407.87,582.95 1411.24,581.66 1414.60,580.25 1417.97,578.74 1421.34,577.11 1424.71,575.38 1428.08,573.53 1431.45,571.58 1434.81,569.51 1438.18,567.33 1441.55,565.03 1444.92,562.62 1448.29,560.10 1451.65,557.46 1455.02,554.70 1458.39,551.83 1461.76,548.84 1465.13,545.74 1468.50,542.51 1471.86,539.16 1475.23,535.58 1478.60,531.65 1481.97,527.42 1485.34,522.91 1488.70,518.18 1492.07,513.24 1495.44,508.14 1498.81,502.92 1502.18,497.61 1505.55,492.23 1508.91,486.84 1512.28,481.47 1515.65,476.15 1519.02,470.91 1522.39,465.80 1525.75,460.85 1529.12,456.09 1532.49,451.56 1535.86,447.29 1539.23,443.33 1542.60,439.55 1545.96,435.83 1549.33,432.15 1552.70,428.53 1556.07,424.96 1559.44,421.45 1562.80,418.01 1566.17,414.63 1569.54,411.31 1572.91,408.07 1576.28,404.89 1579.65,401.80 1583.01,398.78 1586.38,395.84 1589.75,392.98 1593.12,390.21 1596.49,387.53 1599.85,384.94 1603.22,382.44 1606.59,380.04" fill="none" stroke="#2a3fa8" stroke-width="1.55" stroke-linejoin="round"/>
<line x1="1135.05" y1="612.11" x2="1135.05" y2="612.23" stroke="#2a3fa8" stroke-width="1.5" stroke-linecap="butt"/>
<line x1="1128.80" y1="612.11" x2="1141.30" y2="612.11" stroke="#2a3fa8" stroke-width="1.5" stroke-linecap="butt"/>
<line x1="1128.80" y1="612.23" x2="1141.30" y2="612.23" stroke="#2a3fa8" stroke-width="1.5" stroke-linecap="butt"/>
<line x1="1202.41" y1="611.16" x2="1202.41" y2="611.37" stroke="#2a3fa8" stroke-width="1.5" stroke-linecap="butt"/>
<line x1="1196.16" y1="611.16" x2="1208.66" y2="611.16" stroke="#2a3fa8" stroke-width="1.5" stroke-linecap="butt"/>
<line x1="1196.16" y1="611.37" x2="1208.66" y2="611.37" stroke="#2a3fa8" stroke-width="1.5" stroke-linecap="butt"/>
<line x1="1269.77" y1="608.55" x2="1269.77" y2="609.01" stroke="#2a3fa8" stroke-width="1.5" stroke-linecap="butt"/>
<line x1="1263.52" y1="608.55" x2="1276.02" y2="608.55" stroke="#2a3fa8" stroke-width="1.5" stroke-linecap="butt"/>
<line x1="1263.52" y1="609.01" x2="1276.02" y2="609.01" stroke="#2a3fa8" stroke-width="1.5" stroke-linecap="butt"/>
<line x1="1337.14" y1="601.43" x2="1337.14" y2="602.56" stroke="#2a3fa8" stroke-width="1.5" stroke-linecap="butt"/>
<line x1="1330.89" y1="601.43" x2="1343.39" y2="601.43" stroke="#2a3fa8" stroke-width="1.5" stroke-linecap="butt"/>
<line x1="1330.89" y1="602.56" x2="1343.39" y2="602.56" stroke="#2a3fa8" stroke-width="1.5" stroke-linecap="butt"/>
<line x1="1404.50" y1="582.69" x2="1404.50" y2="585.60" stroke="#2a3fa8" stroke-width="1.5" stroke-linecap="butt"/>
<line x1="1398.25" y1="582.69" x2="1410.75" y2="582.69" stroke="#2a3fa8" stroke-width="1.5" stroke-linecap="butt"/>
<line x1="1398.25" y1="585.60" x2="1410.75" y2="585.60" stroke="#2a3fa8" stroke-width="1.5" stroke-linecap="butt"/>
<line x1="1471.86" y1="535.46" x2="1471.86" y2="542.87" stroke="#2a3fa8" stroke-width="1.5" stroke-linecap="butt"/>
<line x1="1465.61" y1="535.46" x2="1478.11" y2="535.46" stroke="#2a3fa8" stroke-width="1.5" stroke-linecap="butt"/>
<line x1="1465.61" y1="542.87" x2="1478.11" y2="542.87" stroke="#2a3fa8" stroke-width="1.5" stroke-linecap="butt"/>
<line x1="1539.23" y1="434.83" x2="1539.23" y2="451.83" stroke="#2a3fa8" stroke-width="1.5" stroke-linecap="butt"/>
<line x1="1532.98" y1="434.83" x2="1545.48" y2="434.83" stroke="#2a3fa8" stroke-width="1.5" stroke-linecap="butt"/>
<line x1="1532.98" y1="451.83" x2="1545.48" y2="451.83" stroke="#2a3fa8" stroke-width="1.5" stroke-linecap="butt"/>
<line x1="1606.59" y1="368.38" x2="1606.59" y2="391.71" stroke="#2a3fa8" stroke-width="1.5" stroke-linecap="butt"/>
<line x1="1600.34" y1="368.38" x2="1612.84" y2="368.38" stroke="#2a3fa8" stroke-width="1.5" stroke-linecap="butt"/>
<line x1="1600.34" y1="391.71" x2="1612.84" y2="391.71" stroke="#2a3fa8" stroke-width="1.5" stroke-linecap="butt"/>
<polygon points="1135.05,603.57 1142.75,616.92 1127.34,616.92" fill="#2a3fa8"/>
<polygon points="1202.41,602.67 1210.12,616.02 1194.70,616.02" fill="#2a3fa8"/>
<polygon points="1269.77,600.18 1277.48,613.53 1262.07,613.53" fill="#2a3fa8"/>
<polygon points="1337.14,593.40 1344.84,606.75 1329.43,606.75" fill="#2a3fa8"/>
<polygon points="1404.50,575.54 1412.21,588.89 1396.79,588.89" fill="#2a3fa8"/>
<polygon points="1471.86,530.56 1479.57,543.91 1464.16,543.91" fill="#2a3fa8"/>
<polygon points="1539.23,434.73 1546.93,448.08 1531.52,448.08" fill="#2a3fa8"/>
<polygon points="1606.59,371.44 1614.30,384.79 1598.88,384.79" fill="#2a3fa8"/>
<polyline points="1135.05,611.45 1138.41,611.43 1141.78,611.40 1145.15,611.36 1148.52,611.31 1151.89,611.26 1155.25,611.19 1158.62,611.11 1161.99,611.03 1165.36,610.93 1168.73,610.84 1172.10,610.73 1175.46,610.62 1178.83,610.50 1182.20,610.38 1185.57,610.26 1188.94,610.13 1192.30,610.00 1195.67,609.87 1199.04,609.74 1202.41,609.60 1205.78,609.45 1209.15,609.29 1212.51,609.11 1215.88,608.92 1219.25,608.71 1222.62,608.49 1225.99,608.26 1229.35,608.01 1232.72,607.76 1236.09,607.49 1239.46,607.22 1242.83,606.93 1246.20,606.65 1249.56,606.35 1252.93,606.05 1256.30,605.75 1259.67,605.44 1263.04,605.13 1266.40,604.82 1269.77,604.51 1273.14,604.17 1276.51,603.77 1279.88,603.32 1283.25,602.81 1286.61,602.26 1289.98,601.66 1293.35,601.02 1296.72,600.34 1300.09,599.63 1303.45,598.89 1306.82,598.13 1310.19,597.34 1313.56,596.53 1316.93,595.71 1320.30,594.87 1323.66,594.03 1327.03,593.18 1330.40,592.33 1333.77,591.48 1337.14,590.63 1340.50,589.73 1343.87,588.70 1347.24,587.55 1350.61,586.28 1353.98,584.90 1357.35,583.42 1360.71,581.83 1364.08,580.16 1367.45,578.39 1370.82,576.53 1374.19,574.60 1377.55,572.60 1380.92,570.53 1384.29,568.39 1387.66,566.20 1391.03,563.95 1394.40,561.66 1397.76,559.33 1401.13,556.96 1404.50,554.56 1407.87,552.03 1411.24,549.28 1414.60,546.30 1417.97,543.10 1421.34,539.66 1424.71,536.00 1428.08,532.10 1431.45,527.98 1434.81,523.61 1438.18,519.01 1441.55,514.18 1444.92,509.10 1448.29,503.79 1451.65,498.23 1455.02,492.43 1458.39,486.38 1461.76,480.09 1465.13,473.55 1468.50,466.77 1471.86,459.73 1475.23,452.32 1478.60,444.46 1481.97,436.18 1485.34,427.55 1488.70,418.60 1492.07,409.39 1495.44,399.97 1498.81,390.38 1502.18,380.68 1505.55,370.91 1508.91,361.12 1512.28,351.36 1515.65,341.68 1519.02,332.13 1522.39,322.76 1525.75,313.61 1529.12,304.74 1532.49,296.19 1535.86,288.01 1539.23,280.26 1542.60,272.75 1545.96,265.29 1549.33,257.88 1552.70,250.53 1556.07,243.23 1559.44,236.01 1562.80,228.85 1566.17,221.77 1569.54,214.78 1572.91,207.87 1576.28,201.05 1579.65,194.33 1583.01,187.72 1586.38,181.21 1589.75,174.82 1593.12,168.54 1596.49,162.39 1599.85,156.37 1603.22,150.48 1606.59,144.73" fill="none" stroke="#139b16" stroke-width="1.55" stroke-linejoin="round"/>
<line x1="1135.05" y1="611.36" x2="1135.05" y2="611.54" stroke="#139b16" stroke-width="1.5" stroke-linecap="butt"/>
<line x1="1128.80" y1="611.36" x2="1141.30" y2="611.36" stroke="#139b16" stroke-width="1.5" stroke-linecap="butt"/>
<line x1="1128.80" y1="611.54" x2="1141.30" y2="611.54" stroke="#139b16" stroke-width="1.5" stroke-linecap="butt"/>
<line x1="1202.41" y1="609.41" x2="1202.41" y2="609.78" stroke="#139b16" stroke-width="1.5" stroke-linecap="butt"/>
<line x1="1196.16" y1="609.41" x2="1208.66" y2="609.41" stroke="#139b16" stroke-width="1.5" stroke-linecap="butt"/>
<line x1="1196.16" y1="609.78" x2="1208.66" y2="609.78" stroke="#139b16" stroke-width="1.5" stroke-linecap="butt"/>
<line x1="1269.77" y1="604.07" x2="1269.77" y2="604.95" stroke="#139b16" stroke-width="1.5" stroke-linecap="butt"/>
<line x1="1263.52" y1="604.07" x2="1276.02" y2="604.07" stroke="#139b16" stroke-width="1.5" stroke-linecap="butt"/>
<line x1="1263.52" y1="604.95" x2="1276.02" y2="604.95" stroke="#139b16" stroke-width="1.5" stroke-linecap="butt"/>
<line x1="1337.14" y1="589.50" x2="1337.14" y2="591.77" stroke="#139b16" stroke-width="1.5" stroke-linecap="butt"/>
<line x1="1330.89" y1="589.50" x2="1343.39" y2="589.50" stroke="#139b16" stroke-width="1.5" stroke-linecap="butt"/>
<line x1="1330.89" y1="591.77" x2="1343.39" y2="591.77" stroke="#139b16" stroke-width="1.5" stroke-linecap="butt"/>
<line x1="1404.50" y1="551.62" x2="1404.50" y2="557.49" stroke="#139b16" stroke-width="1.5" stroke-linecap="butt"/>
<line x1="1398.25" y1="551.62" x2="1410.75" y2="551.62" stroke="#139b16" stroke-width="1.5" stroke-linecap="butt"/>
<line x1="1398.25" y1="557.49" x2="1410.75" y2="557.49" stroke="#139b16" stroke-width="1.5" stroke-linecap="butt"/>
<line x1="1471.86" y1="452.05" x2="1471.86" y2="467.41" stroke="#139b16" stroke-width="1.5" stroke-linecap="butt"/>
<line x1="1465.61" y1="452.05" x2="1478.11" y2="452.05" stroke="#139b16" stroke-width="1.5" stroke-linecap="butt"/>
<line x1="1465.61" y1="467.41" x2="1478.11" y2="467.41" stroke="#139b16" stroke-width="1.5" stroke-linecap="butt"/>
<line x1="1539.23" y1="263.61" x2="1539.23" y2="296.91" stroke="#139b16" stroke-width="1.5" stroke-linecap="butt"/>
<line x1="1532.98" y1="263.61" x2="1545.48" y2="263.61" stroke="#139b16" stroke-width="1.5" stroke-linecap="butt"/>
<line x1="1532.98" y1="296.91" x2="1545.48" y2="296.91" stroke="#139b16" stroke-width="1.5" stroke-linecap="butt"/>
<line x1="1606.59" y1="121.30" x2="1606.59" y2="168.16" stroke="#139b16" stroke-width="1.5" stroke-linecap="butt"/>
<line x1="1600.34" y1="121.30" x2="1612.84" y2="121.30" stroke="#139b16" stroke-width="1.5" stroke-linecap="butt"/>
<line x1="1600.34" y1="168.16" x2="1612.84" y2="168.16" stroke="#139b16" stroke-width="1.5" stroke-linecap="butt"/>
<polygon points="1135.05,604.05 1141.45,607.75 1141.45,615.15 1135.05,618.85 1128.64,615.15 1128.64,607.75" fill="#139b16"/>
<polygon points="1202.41,602.20 1208.82,605.90 1208.82,613.30 1202.41,617.00 1196.00,613.30 1196.00,605.90" fill="#139b16"/>
<polygon points="1269.77,597.11 1276.18,600.81 1276.18,608.21 1269.77,611.91 1263.36,608.21 1263.36,600.81" fill="#139b16"/>
<polygon points="1337.14,583.23 1343.54,586.93 1343.54,594.33 1337.14,598.03 1330.73,594.33 1330.73,586.93" fill="#139b16"/>
<polygon points="1404.50,547.16 1410.91,550.86 1410.91,558.26 1404.50,561.96 1398.09,558.26 1398.09,550.86" fill="#139b16"/>
<polygon points="1471.86,452.33 1478.27,456.03 1478.27,463.43 1471.86,467.13 1465.46,463.43 1465.46,456.03" fill="#139b16"/>
<polygon points="1539.23,272.86 1545.64,276.56 1545.64,283.96 1539.23,287.66 1532.82,283.96 1532.82,276.56" fill="#139b16"/>
<polygon points="1606.59,137.33 1613.00,141.03 1613.00,148.43 1606.59,152.13 1600.18,148.43 1600.18,141.03" fill="#139b16"/>
<polyline points="1135.05,608.53 1138.41,608.64 1141.78,608.71 1145.15,608.72 1148.52,608.70 1151.89,608.63 1155.25,608.52 1158.62,608.38 1161.99,608.20 1165.36,607.98 1168.73,607.74 1172.10,607.47 1175.46,607.17 1178.83,606.85 1182.20,606.51 1185.57,606.15 1188.94,605.77 1192.30,605.38 1195.67,604.98 1199.04,604.57 1202.41,604.15 1205.78,603.69 1209.15,603.17 1212.51,602.59 1215.88,601.94 1219.25,601.23 1222.62,600.47 1225.99,599.66 1229.35,598.79 1232.72,597.88 1236.09,596.92 1239.46,595.92 1242.83,594.88 1246.20,593.80 1249.56,592.69 1252.93,591.55 1256.30,590.38 1259.67,589.18 1263.04,587.96 1266.40,586.71 1269.77,585.45 1273.14,584.10 1276.51,582.59 1279.88,580.92 1283.25,579.09 1286.61,577.10 1289.98,574.96 1293.35,572.68 1296.72,570.25 1300.09,567.67 1303.45,564.95 1306.82,562.09 1310.19,559.10 1313.56,555.97 1316.93,552.71 1320.30,549.33 1323.66,545.82 1327.03,542.18 1330.40,538.42 1333.77,534.55 1337.14,530.56 1340.50,526.41 1343.87,522.06 1347.24,517.51 1350.61,512.76 1353.98,507.83 1357.35,502.70 1360.71,497.38 1364.08,491.88 1367.45,486.19 1370.82,480.33 1374.19,474.29 1377.55,468.07 1380.92,461.69 1384.29,455.13 1387.66,448.41 1391.03,441.53 1394.40,434.48 1397.76,427.28 1401.13,419.92 1404.50,412.41 1407.87,404.71 1411.24,396.80 1414.60,388.70 1417.97,380.43 1421.34,372.01 1424.71,363.46 1428.08,354.81 1431.45,346.07 1434.81,337.28 1438.18,328.44 1441.55,319.58 1444.92,310.73 1448.29,301.90 1451.65,293.11 1455.02,284.39 1458.39,275.76 1461.76,267.24 1465.13,258.85 1468.50,250.61 1471.86,242.55 1475.23,234.63 1478.60,226.83 1481.97,219.13 1485.34,211.54 1488.70,204.06 1492.07,196.70 1495.44,189.46 1498.81,182.33 1502.18,175.33 1505.55,168.45 1508.91,161.70 1512.28,155.07 1515.65,148.58 1519.02,142.21 1522.39,135.98 1525.75,129.88 1529.12,123.93 1532.49,118.11 1535.86,112.43 1539.23,106.90 1542.60,101.74 1545.96,97.18 1549.33,93.17 1552.70,89.71 1556.07,86.76 1559.44,84.31 1562.80,82.32 1566.17,80.78 1569.54,79.66 1572.91,78.93 1576.28,78.58 1579.65,78.58 1583.01,78.90 1586.38,79.52 1589.75,80.41 1593.12,81.56 1596.49,82.94 1599.85,84.52 1603.22,86.29 1606.59,88.20" fill="none" stroke="#be3cfa" stroke-width="1.55" stroke-linejoin="round"/>
<line x1="1135.05" y1="608.29" x2="1135.05" y2="608.77" stroke="#be3cfa" stroke-width="1.5" stroke-linecap="butt"/>
<line x1="1128.80" y1="608.29" x2="1141.30" y2="608.29" stroke="#be3cfa" stroke-width="1.5" stroke-linecap="butt"/>
<line x1="1128.80" y1="608.77" x2="1141.30" y2="608.77" stroke="#be3cfa" stroke-width="1.5" stroke-linecap="butt"/>
<line x1="1202.41" y1="603.69" x2="1202.41" y2="604.61" stroke="#be3cfa" stroke-width="1.5" stroke-linecap="butt"/>
<line x1="1196.16" y1="603.69" x2="1208.66" y2="603.69" stroke="#be3cfa" stroke-width="1.5" stroke-linecap="butt"/>
<line x1="1196.16" y1="604.61" x2="1208.66" y2="604.61" stroke="#be3cfa" stroke-width="1.5" stroke-linecap="butt"/>
<line x1="1269.77" y1="584.06" x2="1269.77" y2="586.85" stroke="#be3cfa" stroke-width="1.5" stroke-linecap="butt"/>
<line x1="1263.52" y1="584.06" x2="1276.02" y2="584.06" stroke="#be3cfa" stroke-width="1.5" stroke-linecap="butt"/>
<line x1="1263.52" y1="586.85" x2="1276.02" y2="586.85" stroke="#be3cfa" stroke-width="1.5" stroke-linecap="butt"/>
<line x1="1337.14" y1="526.42" x2="1337.14" y2="534.69" stroke="#be3cfa" stroke-width="1.5" stroke-linecap="butt"/>
<line x1="1330.89" y1="526.42" x2="1343.39" y2="526.42" stroke="#be3cfa" stroke-width="1.5" stroke-linecap="butt"/>
<line x1="1330.89" y1="534.69" x2="1343.39" y2="534.69" stroke="#be3cfa" stroke-width="1.5" stroke-linecap="butt"/>
<line x1="1404.50" y1="402.37" x2="1404.50" y2="422.46" stroke="#be3cfa" stroke-width="1.5" stroke-linecap="butt"/>
<line x1="1398.25" y1="402.37" x2="1410.75" y2="402.37" stroke="#be3cfa" stroke-width="1.5" stroke-linecap="butt"/>
<line x1="1398.25" y1="422.46" x2="1410.75" y2="422.46" stroke="#be3cfa" stroke-width="1.5" stroke-linecap="butt"/>
<line x1="1471.86" y1="224.01" x2="1471.86" y2="261.09" stroke="#be3cfa" stroke-width="1.5" stroke-linecap="butt"/>
<line x1="1465.61" y1="224.01" x2="1478.11" y2="224.01" stroke="#be3cfa" stroke-width="1.5" stroke-linecap="butt"/>
<line x1="1465.61" y1="261.09" x2="1478.11" y2="261.09" stroke="#be3cfa" stroke-width="1.5" stroke-linecap="butt"/>
<line x1="1539.23" y1="81.58" x2="1539.23" y2="132.22" stroke="#be3cfa" stroke-width="1.5" stroke-linecap="butt"/>
<line x1="1532.98" y1="81.58" x2="1545.48" y2="81.58" stroke="#be3cfa" stroke-width="1.5" stroke-linecap="butt"/>
<line x1="1532.98" y1="132.22" x2="1545.48" y2="132.22" stroke="#be3cfa" stroke-width="1.5" stroke-linecap="butt"/>
<line x1="1606.59" y1="61.95" x2="1606.59" y2="114.46" stroke="#be3cfa" stroke-width="1.5" stroke-linecap="butt"/>
<line x1="1600.34" y1="61.95" x2="1612.84" y2="61.95" stroke="#be3cfa" stroke-width="1.5" stroke-linecap="butt"/>
<line x1="1600.34" y1="114.46" x2="1612.84" y2="114.46" stroke="#be3cfa" stroke-width="1.5" stroke-linecap="butt"/>
<polygon points="1135.05,601.23 1142.37,606.55 1139.57,615.16 1130.52,615.16 1127.72,606.55" fill="#be3cfa"/>
<polygon points="1202.41,596.85 1209.73,602.17 1206.94,610.78 1197.88,610.78 1195.09,602.17" fill="#be3cfa"/>
<polygon points="1269.77,578.15 1277.10,583.47 1274.30,592.08 1265.25,592.08 1262.45,583.47" fill="#be3cfa"/>
<polygon points="1337.14,523.26 1344.46,528.58 1341.66,537.19 1332.61,537.19 1329.81,528.58" fill="#be3cfa"/>
<polygon points="1404.50,405.11 1411.82,410.43 1409.03,419.04 1399.97,419.04 1397.18,410.43" fill="#be3cfa"/>
<polygon points="1471.86,235.25 1479.19,240.57 1476.39,249.18 1467.34,249.18 1464.54,240.57" fill="#be3cfa"/>
<polygon points="1539.23,99.60 1546.55,104.92 1543.75,113.53 1534.70,113.53 1531.90,104.92" fill="#be3cfa"/>
<polygon points="1606.59,80.90 1613.91,86.22 1611.12,94.83 1602.06,94.83 1599.27,86.22" fill="#be3cfa"/>
</g>
<rect x="1034.0" y="16.6" width="741.0" height="596.6999999999999" fill="none" stroke="#000" stroke-width="1.7"/>
<line x1="1101.36" y1="613.30" x2="1101.36" y2="625.30" stroke="#000" stroke-width="1.7" stroke-linecap="butt"/>
<text transform="translate(1101.36,657.00) scale(1.05,1.0)" font-size="29.5" text-anchor="middle" fill="#000" stroke="#000" stroke-width="0.3">250</text>
<line x1="1185.57" y1="613.30" x2="1185.57" y2="619.30" stroke="#000" stroke-width="1.7" stroke-linecap="butt"/>
<line x1="1269.77" y1="613.30" x2="1269.77" y2="625.30" stroke="#000" stroke-width="1.7" stroke-linecap="butt"/>
<text transform="translate(1269.77,657.00) scale(1.05,1.0)" font-size="29.5" text-anchor="middle" fill="#000" stroke="#000" stroke-width="0.3">300</text>
<line x1="1353.98" y1="613.30" x2="1353.98" y2="619.30" stroke="#000" stroke-width="1.7" stroke-linecap="butt"/>
<line x1="1438.18" y1="613.30" x2="1438.18" y2="625.30" stroke="#000" stroke-width="1.7" stroke-linecap="butt"/>
<text transform="translate(1438.18,657.00) scale(1.05,1.0)" font-size="29.5" text-anchor="middle" fill="#000" stroke="#000" stroke-width="0.3">350</text>
<line x1="1522.39" y1="613.30" x2="1522.39" y2="619.30" stroke="#000" stroke-width="1.7" stroke-linecap="butt"/>
<line x1="1606.59" y1="613.30" x2="1606.59" y2="625.30" stroke="#000" stroke-width="1.7" stroke-linecap="butt"/>
<text transform="translate(1606.59,657.00) scale(1.05,1.0)" font-size="29.5" text-anchor="middle" fill="#000" stroke="#000" stroke-width="0.3">400</text>
<line x1="1690.80" y1="613.30" x2="1690.80" y2="619.30" stroke="#000" stroke-width="1.7" stroke-linecap="butt"/>
<line x1="1775.00" y1="613.30" x2="1775.00" y2="625.30" stroke="#000" stroke-width="1.7" stroke-linecap="butt"/>
<text transform="translate(1775.00,657.00) scale(1.05,1.0)" font-size="29.5" text-anchor="middle" fill="#000" stroke="#000" stroke-width="0.3">450</text>
<line x1="1034.00" y1="613.30" x2="1775.00" y2="613.30" stroke="#2a3fa8" stroke-width="1.0" stroke-linecap="butt" stroke-dasharray="1.5 1.5"/>
<line x1="1775.00" y1="429.18" x2="1775.00" y2="613.30" stroke="#2a3fa8" stroke-width="0.9" stroke-linecap="butt" stroke-dasharray="1.5 1.5"/>
<line x1="1028.00" y1="613.30" x2="1034.00" y2="613.30" stroke="#000" stroke-width="1.7" stroke-linecap="butt"/>
<line x1="1022.00" y1="573.52" x2="1034.00" y2="573.52" stroke="#000" stroke-width="1.7" stroke-linecap="butt"/>
<text transform="translate(1013.50,583.92) scale(1.05,1.0)" font-size="29.5" text-anchor="end" fill="#000" stroke="#000" stroke-width="0.3">100</text>
<line x1="1028.00" y1="533.74" x2="1034.00" y2="533.74" stroke="#000" stroke-width="1.7" stroke-linecap="butt"/>
<line x1="1022.00" y1="493.96" x2="1034.00" y2="493.96" stroke="#000" stroke-width="1.7" stroke-linecap="butt"/>
<text transform="translate(1013.50,504.36) scale(1.05,1.0)" font-size="29.5" text-anchor="end" fill="#000" stroke="#000" stroke-width="0.3">300</text>
<line x1="1028.00" y1="454.18" x2="1034.00" y2="454.18" stroke="#000" stroke-width="1.7" stroke-linecap="butt"/>
<line x1="1022.00" y1="414.40" x2="1034.00" y2="414.40" stroke="#000" stroke-width="1.7" stroke-linecap="butt"/>
<text transform="translate(1013.50,424.80) scale(1.05,1.0)" font-size="29.5" text-anchor="end" fill="#000" stroke="#000" stroke-width="0.3">500</text>
<line x1="1028.00" y1="374.62" x2="1034.00" y2="374.62" stroke="#000" stroke-width="1.7" stroke-linecap="butt"/>
<line x1="1022.00" y1="334.84" x2="1034.00" y2="334.84" stroke="#000" stroke-width="1.7" stroke-linecap="butt"/>
<text transform="translate(1013.50,345.24) scale(1.05,1.0)" font-size="29.5" text-anchor="end" fill="#000" stroke="#000" stroke-width="0.3">700</text>
<line x1="1028.00" y1="295.06" x2="1034.00" y2="295.06" stroke="#000" stroke-width="1.7" stroke-linecap="butt"/>
<line x1="1022.00" y1="255.28" x2="1034.00" y2="255.28" stroke="#000" stroke-width="1.7" stroke-linecap="butt"/>
<text transform="translate(1013.50,265.68) scale(1.05,1.0)" font-size="29.5" text-anchor="end" fill="#000" stroke="#000" stroke-width="0.3">900</text>
<line x1="1028.00" y1="215.50" x2="1034.00" y2="215.50" stroke="#000" stroke-width="1.7" stroke-linecap="butt"/>
<line x1="1022.00" y1="175.72" x2="1034.00" y2="175.72" stroke="#000" stroke-width="1.7" stroke-linecap="butt"/>
<text transform="translate(1013.50,186.12) scale(1.05,1.0)" font-size="29.5" text-anchor="end" fill="#000" stroke="#000" stroke-width="0.3">1100</text>
<line x1="1028.00" y1="135.94" x2="1034.00" y2="135.94" stroke="#000" stroke-width="1.7" stroke-linecap="butt"/>
<line x1="1022.00" y1="96.16" x2="1034.00" y2="96.16" stroke="#000" stroke-width="1.7" stroke-linecap="butt"/>
<text transform="translate(1013.50,106.56) scale(1.05,1.0)" font-size="29.5" text-anchor="end" fill="#000" stroke="#000" stroke-width="0.3">1300</text>
<line x1="1028.00" y1="56.38" x2="1034.00" y2="56.38" stroke="#000" stroke-width="1.7" stroke-linecap="butt"/>
<line x1="1022.00" y1="16.60" x2="1034.00" y2="16.60" stroke="#000" stroke-width="1.7" stroke-linecap="butt"/>
<text transform="translate(1013.50,27.00) scale(1.05,1.0)" font-size="29.5" text-anchor="end" fill="#000" stroke="#000" stroke-width="0.3">1500</text>
<text transform="translate(1404.50,713.00) scale(1.048,1.0)" font-size="35.8" text-anchor="middle" fill="#000" stroke="#000" stroke-width="0.3">Temperature (°C)</text>
<text transform="translate(924.30,312.90) rotate(-90) scale(1.0,1.0)" font-size="37.1" text-anchor="middle" fill="#000" stroke="#000" stroke-width="0.3">NH<tspan font-size="24.12" dy="11.87">3</tspan><tspan dy="-11.87"> Synthesis Rate (mmol.g</tspan><tspan font-size="24.12" dy="-15.21">-1</tspan><tspan font-size="24.12" dx="-21.44" dy="27.08">Ru</tspan><tspan dy="-11.87">.h</tspan><tspan font-size="24.12" dy="-15.21">-1</tspan><tspan dy="15.21">)</tspan></text>
<line x1="1037.60" y1="35.80" x2="1086.90" y2="35.80" stroke="#f9101c" stroke-width="1.6" stroke-linecap="butt"/>
<circle cx="1062.30" cy="35.80" r="6.30" fill="#f9101c"/>
<text transform="translate(1106.00,46.50) scale(1.05,1.0)" font-size="29.7" text-anchor="start" fill="#000" stroke="#000" stroke-width="0.3">Ru(10%)/C_inCs</text>
<line x1="1037.60" y1="70.60" x2="1086.90" y2="70.60" stroke="#be3cfa" stroke-width="1.6" stroke-linecap="butt"/>
<polygon points="1062.30,63.30 1069.62,68.62 1066.83,77.23 1057.77,77.23 1054.98,68.62" fill="#be3cfa"/>
<text transform="translate(1106.00,81.30) scale(1.05,1.0)" font-size="29.7" text-anchor="start" fill="#000" stroke="#000" stroke-width="0.3">Ru(5%)/C_inCs</text>
<line x1="1037.60" y1="105.30" x2="1086.90" y2="105.30" stroke="#2a3fa8" stroke-width="1.6" stroke-linecap="butt"/>
<polygon points="1062.30,96.70 1070.01,110.05 1054.59,110.05" fill="#2a3fa8"/>
<text transform="translate(1106.00,116.00) scale(1.05,1.0)" font-size="29.7" text-anchor="start" fill="#000" stroke="#000" stroke-width="0.3">Ru/C_exCs (Cs/Ru=1)</text>
<line x1="1037.60" y1="140.00" x2="1086.90" y2="140.00" stroke="#000000" stroke-width="1.6" stroke-linecap="butt"/>
<rect x="1056.70" y="134.40" width="11.20" height="11.20" fill="#000000"/>
<text transform="translate(1106.00,150.70) scale(1.05,1.0)" font-size="29.7" text-anchor="start" fill="#000" stroke="#000" stroke-width="0.3">Ru/C_exCs (Cs/Ru=2.5)</text>
<line x1="1037.60" y1="174.60" x2="1086.90" y2="174.60" stroke="#139b16" stroke-width="1.6" stroke-linecap="butt"/>
<polygon points="1062.30,167.20 1068.71,170.90 1068.71,178.30 1062.30,182.00 1055.89,178.30 1055.89,170.90" fill="#139b16"/>
<text transform="translate(1106.00,185.30) scale(1.05,1.0)" font-size="29.7" text-anchor="start" fill="#000" stroke="#000" stroke-width="0.3">Ru/C_exCs (Cs/Ru=10)</text>
<line x1="1037.60" y1="213.50" x2="1087.20" y2="213.50" stroke="#f9101c" stroke-width="1.7" stroke-linecap="butt" stroke-dasharray="2.8 5.7"/>
<text transform="translate(1106.00,223.00) scale(1.05,1.0)" font-size="29.7" text-anchor="start" fill="#000" stroke="#000" stroke-width="0.3">80 ml.min<tspan font-size="19.60" dy="-13.5">-1</tspan><tspan dy="13.5">, 10mg</tspan><tspan font-size="20.20" dy="8.5">Ru</tspan></text>
<line x1="1037.60" y1="257.20" x2="1087.20" y2="257.20" stroke="#be3cfa" stroke-width="1.7" stroke-linecap="butt" stroke-dasharray="9.3 3 2.3 3.4"/>
<text transform="translate(1106.00,266.70) scale(1.05,1.0)" font-size="29.7" text-anchor="start" fill="#000" stroke="#000" stroke-width="0.3">80 ml.min<tspan font-size="19.60" dy="-13.5">-1</tspan><tspan dy="13.5">, 5mg</tspan><tspan font-size="20.20" dy="8.5">Ru</tspan></text>
<line x1="1037.60" y1="302.30" x2="1087.20" y2="302.30" stroke="#2a3fa8" stroke-width="1.7" stroke-linecap="butt" stroke-dasharray="6.8 1.5 1.8 1.6"/>
<text transform="translate(1106.00,311.80) scale(1.05,1.0)" font-size="29.7" text-anchor="start" fill="#000" stroke="#000" stroke-width="0.3">80 ml.min<tspan font-size="19.60" dy="-13.5">-1</tspan><tspan dy="13.5">, 8.8mg</tspan><tspan font-size="20.20" dy="8.5">Ru</tspan></text>
<line x1="1037.60" y1="346.90" x2="1087.20" y2="346.90" stroke="#000000" stroke-width="1.7" stroke-linecap="butt" stroke-dasharray="8.2 6.1"/>
<text transform="translate(1106.00,356.40) scale(1.05,1.0)" font-size="29.7" text-anchor="start" fill="#000" stroke="#000" stroke-width="0.3">80 ml.min<tspan font-size="19.60" dy="-13.5">-1</tspan><tspan dy="13.5">, 7.5mg</tspan><tspan font-size="20.20" dy="8.5">Ru</tspan></text>
<line x1="1037.60" y1="391.00" x2="1087.20" y2="391.00" stroke="#139b16" stroke-width="1.7" stroke-linecap="butt" stroke-dasharray="4.1 2.5"/>
<text transform="translate(1106.00,400.50) scale(1.05,1.0)" font-size="29.7" text-anchor="start" fill="#000" stroke="#000" stroke-width="0.3">80 ml.min<tspan font-size="19.60" dy="-13.5">-1</tspan><tspan dy="13.5">, 4.3mg</tspan><tspan font-size="20.20" dy="8.5">Ru</tspan></text>
<text transform="translate(1720.20,68.60) scale(0.98,1.0)" font-size="51.3" text-anchor="start" fill="#000" stroke="#000" stroke-width="0" font-weight="bold">b</text>
<rect x="118.38" y="1243.82" width="31.30" height="45.98" fill="#5c00d7"/>
<rect x="149.08" y="1237.98" width="30.70" height="51.82" fill="#a92b00"/>
<line x1="133.73" y1="1241.52" x2="133.73" y2="1246.12" stroke="#000" stroke-width="1.4" stroke-linecap="butt"/>
<line x1="128.23" y1="1241.52" x2="139.23" y2="1241.52" stroke="#000" stroke-width="1.4" stroke-linecap="butt"/>
<line x1="128.23" y1="1246.12" x2="139.23" y2="1246.12" stroke="#000" stroke-width="1.4" stroke-linecap="butt"/>
<line x1="164.43" y1="1235.39" x2="164.43" y2="1240.57" stroke="#000" stroke-width="1.4" stroke-linecap="butt"/>
<line x1="158.93" y1="1235.39" x2="169.93" y2="1235.39" stroke="#000" stroke-width="1.4" stroke-linecap="butt"/>
<line x1="158.93" y1="1240.57" x2="169.93" y2="1240.57" stroke="#000" stroke-width="1.4" stroke-linecap="butt"/>
<rect x="193.73" y="1202.58" width="31.30" height="87.22" fill="#5c00d7"/>
<rect x="224.43" y="1173.57" width="30.70" height="116.23" fill="#a92b00"/>
<line x1="209.08" y1="1198.22" x2="209.08" y2="1206.94" stroke="#000" stroke-width="1.4" stroke-linecap="butt"/>
<line x1="203.58" y1="1198.22" x2="214.58" y2="1198.22" stroke="#000" stroke-width="1.4" stroke-linecap="butt"/>
<line x1="203.58" y1="1206.94" x2="214.58" y2="1206.94" stroke="#000" stroke-width="1.4" stroke-linecap="butt"/>
<line x1="239.78" y1="1167.76" x2="239.78" y2="1179.38" stroke="#000" stroke-width="1.4" stroke-linecap="butt"/>
<line x1="234.28" y1="1167.76" x2="245.28" y2="1167.76" stroke="#000" stroke-width="1.4" stroke-linecap="butt"/>
<line x1="234.28" y1="1179.38" x2="245.28" y2="1179.38" stroke="#000" stroke-width="1.4" stroke-linecap="butt"/>
<rect x="269.09" y="1244.73" width="31.30" height="45.07" fill="#5c00d7"/>
<rect x="299.79" y="1185.98" width="30.70" height="103.82" fill="#a92b00"/>
<line x1="284.44" y1="1242.48" x2="284.44" y2="1246.98" stroke="#000" stroke-width="1.4" stroke-linecap="butt"/>
<line x1="278.94" y1="1242.48" x2="289.94" y2="1242.48" stroke="#000" stroke-width="1.4" stroke-linecap="butt"/>
<line x1="278.94" y1="1246.98" x2="289.94" y2="1246.98" stroke="#000" stroke-width="1.4" stroke-linecap="butt"/>
<line x1="315.14" y1="1180.79" x2="315.14" y2="1191.17" stroke="#000" stroke-width="1.4" stroke-linecap="butt"/>
<line x1="309.64" y1="1180.79" x2="320.64" y2="1180.79" stroke="#000" stroke-width="1.4" stroke-linecap="butt"/>
<line x1="309.64" y1="1191.17" x2="320.64" y2="1191.17" stroke="#000" stroke-width="1.4" stroke-linecap="butt"/>
<rect x="344.44" y="1100.03" width="31.30" height="189.77" fill="#5c00d7"/>
<rect x="375.14" y="911.18" width="30.70" height="378.62" fill="#a92b00"/>
<line x1="359.79" y1="1090.55" x2="359.79" y2="1109.52" stroke="#000" stroke-width="1.4" stroke-linecap="butt"/>
<line x1="354.29" y1="1090.55" x2="365.29" y2="1090.55" stroke="#000" stroke-width="1.4" stroke-linecap="butt"/>
<line x1="354.29" y1="1109.52" x2="365.29" y2="1109.52" stroke="#000" stroke-width="1.4" stroke-linecap="butt"/>
<line x1="390.49" y1="892.25" x2="390.49" y2="930.11" stroke="#000" stroke-width="1.4" stroke-linecap="butt"/>
<line x1="384.99" y1="892.25" x2="395.99" y2="892.25" stroke="#000" stroke-width="1.4" stroke-linecap="butt"/>
<line x1="384.99" y1="930.11" x2="395.99" y2="930.11" stroke="#000" stroke-width="1.4" stroke-linecap="butt"/>
<rect x="419.80" y="778.89" width="31.30" height="510.91" fill="#5c00d7"/>
<rect x="450.50" y="778.89" width="30.70" height="510.91" fill="#a92b00"/>
<line x1="435.15" y1="753.35" x2="435.15" y2="804.44" stroke="#000" stroke-width="1.4" stroke-linecap="butt"/>
<line x1="429.65" y1="753.35" x2="440.65" y2="753.35" stroke="#000" stroke-width="1.4" stroke-linecap="butt"/>
<line x1="429.65" y1="804.44" x2="440.65" y2="804.44" stroke="#000" stroke-width="1.4" stroke-linecap="butt"/>
<line x1="465.85" y1="753.35" x2="465.85" y2="804.44" stroke="#000" stroke-width="1.4" stroke-linecap="butt"/>
<line x1="460.35" y1="753.35" x2="471.35" y2="753.35" stroke="#000" stroke-width="1.4" stroke-linecap="butt"/>
<line x1="460.35" y1="804.44" x2="471.35" y2="804.44" stroke="#000" stroke-width="1.4" stroke-linecap="butt"/>
<line x1="111.40" y1="742.40" x2="789.60" y2="742.40" stroke="#000" stroke-width="1.6" stroke-linecap="butt"/>
<line x1="110.70" y1="1289.80" x2="790.30" y2="1289.80" stroke="#000" stroke-width="1.6" stroke-linecap="butt"/>
<line x1="111.40" y1="742.40" x2="111.40" y2="1289.80" stroke="#5c00d7" stroke-width="1.5" stroke-linecap="butt"/>
<line x1="789.60" y1="742.40" x2="789.60" y2="1289.80" stroke="#a92b00" stroke-width="1.5" stroke-linecap="butt"/>
<line x1="111.40" y1="1279.50" x2="111.40" y2="1299.80" stroke="#000" stroke-width="1.5" stroke-linecap="butt"/>
<line x1="186.76" y1="1279.50" x2="186.76" y2="1299.80" stroke="#000" stroke-width="1.5" stroke-linecap="butt"/>
<line x1="262.11" y1="1279.50" x2="262.11" y2="1299.80" stroke="#000" stroke-width="1.5" stroke-linecap="butt"/>
<line x1="337.47" y1="1279.50" x2="337.47" y2="1299.80" stroke="#000" stroke-width="1.5" stroke-linecap="butt"/>
<line x1="412.82" y1="1279.50" x2="412.82" y2="1299.80" stroke="#000" stroke-width="1.5" stroke-linecap="butt"/>
<line x1="488.18" y1="1279.50" x2="488.18" y2="1299.80" stroke="#000" stroke-width="1.5" stroke-linecap="butt"/>
<line x1="563.53" y1="1279.50" x2="563.53" y2="1299.80" stroke="#000" stroke-width="1.5" stroke-linecap="butt"/>
<line x1="638.89" y1="1279.50" x2="638.89" y2="1299.80" stroke="#000" stroke-width="1.5" stroke-linecap="butt"/>
<line x1="714.24" y1="1279.50" x2="714.24" y2="1299.80" stroke="#000" stroke-width="1.5" stroke-linecap="butt"/>
<line x1="789.60" y1="1279.50" x2="789.60" y2="1299.80" stroke="#000" stroke-width="1.5" stroke-linecap="butt"/>
<line x1="100.40" y1="1289.80" x2="111.40" y2="1289.80" stroke="#5c00d7" stroke-width="1.5" stroke-linecap="butt"/>
<text transform="translate(93.40,1298.40) scale(1.04,1.0)" font-size="28.3" text-anchor="end" fill="#5c00d7" stroke="#5c00d7" stroke-width="0.3">0</text>
<line x1="106.40" y1="1271.55" x2="111.40" y2="1271.55" stroke="#5c00d7" stroke-width="1.5" stroke-linecap="butt"/>
<line x1="106.40" y1="1253.31" x2="111.40" y2="1253.31" stroke="#5c00d7" stroke-width="1.5" stroke-linecap="butt"/>
<line x1="106.40" y1="1235.06" x2="111.40" y2="1235.06" stroke="#5c00d7" stroke-width="1.5" stroke-linecap="butt"/>
<line x1="106.40" y1="1216.81" x2="111.40" y2="1216.81" stroke="#5c00d7" stroke-width="1.5" stroke-linecap="butt"/>
<line x1="100.40" y1="1198.57" x2="111.40" y2="1198.57" stroke="#5c00d7" stroke-width="1.5" stroke-linecap="butt"/>
<text transform="translate(93.40,1207.17) scale(1.04,1.0)" font-size="28.3" text-anchor="end" fill="#5c00d7" stroke="#5c00d7" stroke-width="0.3">5</text>
<line x1="106.40" y1="1180.32" x2="111.40" y2="1180.32" stroke="#5c00d7" stroke-width="1.5" stroke-linecap="butt"/>
<line x1="106.40" y1="1162.07" x2="111.40" y2="1162.07" stroke="#5c00d7" stroke-width="1.5" stroke-linecap="butt"/>
<line x1="106.40" y1="1143.83" x2="111.40" y2="1143.83" stroke="#5c00d7" stroke-width="1.5" stroke-linecap="butt"/>
<line x1="106.40" y1="1125.58" x2="111.40" y2="1125.58" stroke="#5c00d7" stroke-width="1.5" stroke-linecap="butt"/>
<line x1="100.40" y1="1107.33" x2="111.40" y2="1107.33" stroke="#5c00d7" stroke-width="1.5" stroke-linecap="butt"/>
<text transform="translate(93.40,1115.93) scale(1.04,1.0)" font-size="28.3" text-anchor="end" fill="#5c00d7" stroke="#5c00d7" stroke-width="0.3">10</text>
<line x1="106.40" y1="1089.09" x2="111.40" y2="1089.09" stroke="#5c00d7" stroke-width="1.5" stroke-linecap="butt"/>
<line x1="106.40" y1="1070.84" x2="111.40" y2="1070.84" stroke="#5c00d7" stroke-width="1.5" stroke-linecap="butt"/>
<line x1="106.40" y1="1052.59" x2="111.40" y2="1052.59" stroke="#5c00d7" stroke-width="1.5" stroke-linecap="butt"/>
<line x1="106.40" y1="1034.35" x2="111.40" y2="1034.35" stroke="#5c00d7" stroke-width="1.5" stroke-linecap="butt"/>
<line x1="100.40" y1="1016.10" x2="111.40" y2="1016.10" stroke="#5c00d7" stroke-width="1.5" stroke-linecap="butt"/>
<text transform="translate(93.40,1024.70) scale(1.04,1.0)" font-size="28.3" text-anchor="end" fill="#5c00d7" stroke="#5c00d7" stroke-width="0.3">15</text>
<line x1="106.40" y1="997.85" x2="111.40" y2="997.85" stroke="#5c00d7" stroke-width="1.5" stroke-linecap="butt"/>
<line x1="106.40" y1="979.61" x2="111.40" y2="979.61" stroke="#5c00d7" stroke-width="1.5" stroke-linecap="butt"/>
<line x1="106.40" y1="961.36" x2="111.40" y2="961.36" stroke="#5c00d7" stroke-width="1.5" stroke-linecap="butt"/>
<line x1="106.40" y1="943.11" x2="111.40" y2="943.11" stroke="#5c00d7" stroke-width="1.5" stroke-linecap="butt"/>
<line x1="100.40" y1="924.87" x2="111.40" y2="924.87" stroke="#5c00d7" stroke-width="1.5" stroke-linecap="butt"/>
<text transform="translate(93.40,933.47) scale(1.04,1.0)" font-size="28.3" text-anchor="end" fill="#5c00d7" stroke="#5c00d7" stroke-width="0.3">20</text>
<line x1="106.40" y1="906.62" x2="111.40" y2="906.62" stroke="#5c00d7" stroke-width="1.5" stroke-linecap="butt"/>
<line x1="106.40" y1="888.37" x2="111.40" y2="888.37" stroke="#5c00d7" stroke-width="1.5" stroke-linecap="butt"/>
<line x1="106.40" y1="870.13" x2="111.40" y2="870.13" stroke="#5c00d7" stroke-width="1.5" stroke-linecap="butt"/>
<line x1="106.40" y1="851.88" x2="111.40" y2="851.88" stroke="#5c00d7" stroke-width="1.5" stroke-linecap="butt"/>
<line x1="100.40" y1="833.63" x2="111.40" y2="833.63" stroke="#5c00d7" stroke-width="1.5" stroke-linecap="butt"/>
<text transform="translate(93.40,842.23) scale(1.04,1.0)" font-size="28.3" text-anchor="end" fill="#5c00d7" stroke="#5c00d7" stroke-width="0.3">25</text>
<line x1="106.40" y1="815.39" x2="111.40" y2="815.39" stroke="#5c00d7" stroke-width="1.5" stroke-linecap="butt"/>
<line x1="106.40" y1="797.14" x2="111.40" y2="797.14" stroke="#5c00d7" stroke-width="1.5" stroke-linecap="butt"/>
<line x1="106.40" y1="778.89" x2="111.40" y2="778.89" stroke="#5c00d7" stroke-width="1.5" stroke-linecap="butt"/>
<line x1="106.40" y1="760.65" x2="111.40" y2="760.65" stroke="#5c00d7" stroke-width="1.5" stroke-linecap="butt"/>
<line x1="100.40" y1="742.40" x2="111.40" y2="742.40" stroke="#5c00d7" stroke-width="1.5" stroke-linecap="butt"/>
<text transform="translate(93.40,751.00) scale(1.04,1.0)" font-size="28.3" text-anchor="end" fill="#5c00d7" stroke="#5c00d7" stroke-width="0.3">30</text>
<line x1="789.60" y1="1289.80" x2="799.60" y2="1289.80" stroke="#a92b00" stroke-width="1.5" stroke-linecap="butt"/>
<text transform="translate(806.80,1298.40) scale(1.04,1.0)" font-size="28.3" text-anchor="start" fill="#a92b00" stroke="#a92b00" stroke-width="0.3">0</text>
<line x1="789.60" y1="1271.55" x2="794.60" y2="1271.55" stroke="#a92b00" stroke-width="1.5" stroke-linecap="butt"/>
<line x1="789.60" y1="1253.31" x2="794.60" y2="1253.31" stroke="#a92b00" stroke-width="1.5" stroke-linecap="butt"/>
<line x1="789.60" y1="1235.06" x2="794.60" y2="1235.06" stroke="#a92b00" stroke-width="1.5" stroke-linecap="butt"/>
<line x1="789.60" y1="1216.81" x2="794.60" y2="1216.81" stroke="#a92b00" stroke-width="1.5" stroke-linecap="butt"/>
<line x1="789.60" y1="1198.57" x2="799.60" y2="1198.57" stroke="#a92b00" stroke-width="1.5" stroke-linecap="butt"/>
<text transform="translate(806.80,1207.17) scale(1.04,1.0)" font-size="28.3" text-anchor="start" fill="#a92b00" stroke="#a92b00" stroke-width="0.3">50</text>
<line x1="789.60" y1="1180.32" x2="794.60" y2="1180.32" stroke="#a92b00" stroke-width="1.5" stroke-linecap="butt"/>
<line x1="789.60" y1="1162.07" x2="794.60" y2="1162.07" stroke="#a92b00" stroke-width="1.5" stroke-linecap="butt"/>
<line x1="789.60" y1="1143.83" x2="794.60" y2="1143.83" stroke="#a92b00" stroke-width="1.5" stroke-linecap="butt"/>
<line x1="789.60" y1="1125.58" x2="794.60" y2="1125.58" stroke="#a92b00" stroke-width="1.5" stroke-linecap="butt"/>
<line x1="789.60" y1="1107.33" x2="799.60" y2="1107.33" stroke="#a92b00" stroke-width="1.5" stroke-linecap="butt"/>
<text transform="translate(806.80,1115.93) scale(1.04,1.0)" font-size="28.3" text-anchor="start" fill="#a92b00" stroke="#a92b00" stroke-width="0.3">100</text>
<line x1="789.60" y1="1089.09" x2="794.60" y2="1089.09" stroke="#a92b00" stroke-width="1.5" stroke-linecap="butt"/>
<line x1="789.60" y1="1070.84" x2="794.60" y2="1070.84" stroke="#a92b00" stroke-width="1.5" stroke-linecap="butt"/>
<line x1="789.60" y1="1052.59" x2="794.60" y2="1052.59" stroke="#a92b00" stroke-width="1.5" stroke-linecap="butt"/>
<line x1="789.60" y1="1034.35" x2="794.60" y2="1034.35" stroke="#a92b00" stroke-width="1.5" stroke-linecap="butt"/>
<line x1="789.60" y1="1016.10" x2="799.60" y2="1016.10" stroke="#a92b00" stroke-width="1.5" stroke-linecap="butt"/>
<text transform="translate(806.80,1024.70) scale(1.04,1.0)" font-size="28.3" text-anchor="start" fill="#a92b00" stroke="#a92b00" stroke-width="0.3">150</text>
<line x1="789.60" y1="997.85" x2="794.60" y2="997.85" stroke="#a92b00" stroke-width="1.5" stroke-linecap="butt"/>
<line x1="789.60" y1="979.61" x2="794.60" y2="979.61" stroke="#a92b00" stroke-width="1.5" stroke-linecap="butt"/>
<line x1="789.60" y1="961.36" x2="794.60" y2="961.36" stroke="#a92b00" stroke-width="1.5" stroke-linecap="butt"/>
<line x1="789.60" y1="943.11" x2="794.60" y2="943.11" stroke="#a92b00" stroke-width="1.5" stroke-linecap="butt"/>
<line x1="789.60" y1="924.87" x2="799.60" y2="924.87" stroke="#a92b00" stroke-width="1.5" stroke-linecap="butt"/>
<text transform="translate(806.80,933.47) scale(1.04,1.0)" font-size="28.3" text-anchor="start" fill="#a92b00" stroke="#a92b00" stroke-width="0.3">200</text>
<line x1="789.60" y1="906.62" x2="794.60" y2="906.62" stroke="#a92b00" stroke-width="1.5" stroke-linecap="butt"/>
<line x1="789.60" y1="888.37" x2="794.60" y2="888.37" stroke="#a92b00" stroke-width="1.5" stroke-linecap="butt"/>
<line x1="789.60" y1="870.13" x2="794.60" y2="870.13" stroke="#a92b00" stroke-width="1.5" stroke-linecap="butt"/>
<line x1="789.60" y1="851.88" x2="794.60" y2="851.88" stroke="#a92b00" stroke-width="1.5" stroke-linecap="butt"/>
<line x1="789.60" y1="833.63" x2="799.60" y2="833.63" stroke="#a92b00" stroke-width="1.5" stroke-linecap="butt"/>
<text transform="translate(806.80,842.23) scale(1.04,1.0)" font-size="28.3" text-anchor="start" fill="#a92b00" stroke="#a92b00" stroke-width="0.3">250</text>
<line x1="789.60" y1="815.39" x2="794.60" y2="815.39" stroke="#a92b00" stroke-width="1.5" stroke-linecap="butt"/>
<line x1="789.60" y1="797.14" x2="794.60" y2="797.14" stroke="#a92b00" stroke-width="1.5" stroke-linecap="butt"/>
<line x1="789.60" y1="778.89" x2="794.60" y2="778.89" stroke="#a92b00" stroke-width="1.5" stroke-linecap="butt"/>
<line x1="789.60" y1="760.65" x2="794.60" y2="760.65" stroke="#a92b00" stroke-width="1.5" stroke-linecap="butt"/>
<line x1="789.60" y1="742.40" x2="799.60" y2="742.40" stroke="#a92b00" stroke-width="1.5" stroke-linecap="butt"/>
<text transform="translate(806.80,751.00) scale(1.04,1.0)" font-size="28.3" text-anchor="start" fill="#a92b00" stroke="#a92b00" stroke-width="0.3">300</text>
<text transform="translate(34.90,1011.60) rotate(-90) scale(1.0,1.0)" font-size="34.2" text-anchor="middle" fill="#5c00d7" stroke="#5c00d7" stroke-width="0.3">NH<tspan font-size="22.23" dy="10.94">3</tspan><tspan dy="-10.94"> Synthesis Rate (mmol.g</tspan><tspan font-size="22.23" dy="-14.02">-1</tspan><tspan font-size="22.23" dx="-19.76" dy="24.97">cat</tspan><tspan dy="-10.94">.h</tspan><tspan font-size="22.23" dy="-14.02">-1</tspan><tspan dy="14.02">)</tspan></text>
<text transform="translate(895.50,1010.90) rotate(-90) scale(1.0,1.0)" font-size="33.8" text-anchor="middle" fill="#a92b00" stroke="#a92b00" stroke-width="0.3">NH<tspan font-size="21.97" dy="10.82">3</tspan><tspan dy="-10.82"> Synthesis Rate (mmol.g</tspan><tspan font-size="21.97" dy="-13.86">-1</tspan><tspan font-size="21.97" dx="-19.53" dy="24.67">Ru</tspan><tspan dy="-10.82">.h</tspan><tspan font-size="21.97" dy="-13.86">-1</tspan><tspan dy="13.86">)</tspan></text>
<text transform="translate(731.80,786.40) scale(1.035,1.0)" font-size="51.3" text-anchor="start" fill="#000" stroke="#000" stroke-width="0" font-weight="bold">c</text>
<text transform="translate(140.88,1301.50) rotate(-90) scale(1.0,1.05)" font-size="27.8" text-anchor="end" fill="#000" stroke="#000" stroke-width="0.3">Ru/C_exCs</text>
<text transform="translate(177.08,1301.50) rotate(-90) scale(1.0,1.05)" font-size="27.8" text-anchor="end" fill="#000" stroke="#000" stroke-width="0.3">(Cs/Ru=1)</text>
<text transform="translate(216.23,1301.50) rotate(-90) scale(1.0,1.05)" font-size="27.8" text-anchor="end" fill="#000" stroke="#000" stroke-width="0.3">Ru/C_exCs</text>
<text transform="translate(252.43,1301.50) rotate(-90) scale(1.0,1.05)" font-size="27.8" text-anchor="end" fill="#000" stroke="#000" stroke-width="0.3">(Cs/Ru=2.5)</text>
<text transform="translate(291.59,1301.50) rotate(-90) scale(1.0,1.05)" font-size="27.8" text-anchor="end" fill="#000" stroke="#000" stroke-width="0.3">Ru/C_exCs</text>
<text transform="translate(327.79,1301.50) rotate(-90) scale(1.0,1.05)" font-size="27.8" text-anchor="end" fill="#000" stroke="#000" stroke-width="0.3">(Cs/Ru=10)</text>
<text transform="translate(366.94,1301.50) rotate(-90) scale(1.0,1.05)" font-size="27.8" text-anchor="end" fill="#000" stroke="#000" stroke-width="0.3">Ru(5%)/C</text>
<text transform="translate(403.14,1301.50) rotate(-90) scale(1.0,1.05)" font-size="27.8" text-anchor="end" fill="#000" stroke="#000" stroke-width="0.3">_inCs</text>
<text transform="translate(442.30,1301.50) rotate(-90) scale(1.0,1.05)" font-size="27.8" text-anchor="end" fill="#000" stroke="#000" stroke-width="0.3">Ru(10%)/C</text>
<text transform="translate(478.50,1301.50) rotate(-90) scale(1.0,1.05)" font-size="27.8" text-anchor="end" fill="#000" stroke="#000" stroke-width="0.3">_inCs</text>
<text transform="translate(536.26,1301.50) rotate(-90) scale(1.0,1.05)" font-size="27.8" text-anchor="end" fill="#000" stroke="#000" stroke-width="0.3">Pt/C_inCs</text>
<text transform="translate(611.61,1301.50) rotate(-90) scale(1.0,1.05)" font-size="27.8" text-anchor="end" fill="#000" stroke="#000" stroke-width="0.3">Pd/C_inCs</text>
<text transform="translate(686.97,1301.50) rotate(-90) scale(1.0,1.05)" font-size="27.8" text-anchor="end" fill="#000" stroke="#000" stroke-width="0.3">Ru/C</text>
<text transform="translate(762.32,1301.50) rotate(-90) scale(1.0,1.05)" font-size="27.8" text-anchor="end" fill="#000" stroke="#000" stroke-width="0.3">C_inCs</text>
<line x1="1106.01" y1="861.73" x2="1201.26" y2="858.92" stroke="#f9101c" stroke-width="1.8" stroke-linecap="butt" stroke-dasharray="8 5"/>
<line x1="1230.15" y1="856.75" x2="1325.59" y2="845.24" stroke="#f9101c" stroke-width="1.8" stroke-linecap="butt" stroke-dasharray="8 5"/>
<line x1="1354.46" y1="844.28" x2="1449.74" y2="849.39" stroke="#f9101c" stroke-width="1.8" stroke-linecap="butt" stroke-dasharray="8 5"/>
<line x1="1478.70" y1="849.54" x2="1573.96" y2="845.45" stroke="#f9101c" stroke-width="1.8" stroke-linecap="butt" stroke-dasharray="8 5"/>
<line x1="1602.90" y1="846.00" x2="1698.23" y2="853.66" stroke="#f9101c" stroke-width="1.8" stroke-linecap="butt" stroke-dasharray="8 5"/>
<line x1="1091.52" y1="838.04" x2="1091.52" y2="886.27" stroke="#f9101c" stroke-width="1.7" stroke-linecap="butt"/>
<line x1="1085.27" y1="838.04" x2="1097.77" y2="838.04" stroke="#f9101c" stroke-width="1.7" stroke-linecap="butt"/>
<line x1="1085.27" y1="886.27" x2="1097.77" y2="886.27" stroke="#f9101c" stroke-width="1.7" stroke-linecap="butt"/>
<line x1="1215.75" y1="834.19" x2="1215.75" y2="882.79" stroke="#f9101c" stroke-width="1.7" stroke-linecap="butt"/>
<line x1="1209.50" y1="834.19" x2="1222.00" y2="834.19" stroke="#f9101c" stroke-width="1.7" stroke-linecap="butt"/>
<line x1="1209.50" y1="882.79" x2="1222.00" y2="882.79" stroke="#f9101c" stroke-width="1.7" stroke-linecap="butt"/>
<line x1="1339.98" y1="818.45" x2="1339.98" y2="868.55" stroke="#f9101c" stroke-width="1.7" stroke-linecap="butt"/>
<line x1="1333.73" y1="818.45" x2="1346.23" y2="818.45" stroke="#f9101c" stroke-width="1.7" stroke-linecap="butt"/>
<line x1="1333.73" y1="868.55" x2="1346.23" y2="868.55" stroke="#f9101c" stroke-width="1.7" stroke-linecap="butt"/>
<line x1="1464.22" y1="825.45" x2="1464.22" y2="874.88" stroke="#f9101c" stroke-width="1.7" stroke-linecap="butt"/>
<line x1="1457.97" y1="825.45" x2="1470.47" y2="825.45" stroke="#f9101c" stroke-width="1.7" stroke-linecap="butt"/>
<line x1="1457.97" y1="874.88" x2="1470.47" y2="874.88" stroke="#f9101c" stroke-width="1.7" stroke-linecap="butt"/>
<line x1="1588.45" y1="819.85" x2="1588.45" y2="869.82" stroke="#f9101c" stroke-width="1.7" stroke-linecap="butt"/>
<line x1="1582.20" y1="819.85" x2="1594.70" y2="819.85" stroke="#f9101c" stroke-width="1.7" stroke-linecap="butt"/>
<line x1="1582.20" y1="869.82" x2="1594.70" y2="869.82" stroke="#f9101c" stroke-width="1.7" stroke-linecap="butt"/>
<line x1="1712.68" y1="830.34" x2="1712.68" y2="879.31" stroke="#f9101c" stroke-width="1.7" stroke-linecap="butt"/>
<line x1="1706.43" y1="830.34" x2="1718.93" y2="830.34" stroke="#f9101c" stroke-width="1.7" stroke-linecap="butt"/>
<line x1="1706.43" y1="879.31" x2="1718.93" y2="879.31" stroke="#f9101c" stroke-width="1.7" stroke-linecap="butt"/>
<circle cx="1091.52" cy="862.16" r="9.40" fill="#f9101c"/>
<circle cx="1215.75" cy="858.49" r="9.40" fill="#f9101c"/>
<circle cx="1339.98" cy="843.50" r="9.40" fill="#f9101c"/>
<circle cx="1464.22" cy="850.16" r="9.40" fill="#f9101c"/>
<circle cx="1588.45" cy="844.83" r="9.40" fill="#f9101c"/>
<circle cx="1712.68" cy="854.83" r="9.40" fill="#f9101c"/>
<rect x="1029.4" y="744.9" width="745.3999999999999" height="599.6" fill="none" stroke="#000" stroke-width="1.7"/>
<line x1="1029.40" y1="1344.50" x2="1029.40" y2="1356.50" stroke="#000" stroke-width="1.7" stroke-linecap="butt"/>
<text transform="translate(1029.40,1389.30) scale(1.05,1.0)" font-size="29.8" text-anchor="middle" fill="#000" stroke="#000" stroke-width="0.3">0</text>
<line x1="1091.52" y1="1344.50" x2="1091.52" y2="1350.50" stroke="#000" stroke-width="1.7" stroke-linecap="butt"/>
<line x1="1153.63" y1="1344.50" x2="1153.63" y2="1356.50" stroke="#000" stroke-width="1.7" stroke-linecap="butt"/>
<text transform="translate(1153.63,1389.30) scale(1.05,1.0)" font-size="29.8" text-anchor="middle" fill="#000" stroke="#000" stroke-width="0.3">20</text>
<line x1="1215.75" y1="1344.50" x2="1215.75" y2="1350.50" stroke="#000" stroke-width="1.7" stroke-linecap="butt"/>
<line x1="1277.87" y1="1344.50" x2="1277.87" y2="1356.50" stroke="#000" stroke-width="1.7" stroke-linecap="butt"/>
<text transform="translate(1277.87,1389.30) scale(1.05,1.0)" font-size="29.8" text-anchor="middle" fill="#000" stroke="#000" stroke-width="0.3">40</text>
<line x1="1339.98" y1="1344.50" x2="1339.98" y2="1350.50" stroke="#000" stroke-width="1.7" stroke-linecap="butt"/>
<line x1="1402.10" y1="1344.50" x2="1402.10" y2="1356.50" stroke="#000" stroke-width="1.7" stroke-linecap="butt"/>
<text transform="translate(1402.10,1389.30) scale(1.05,1.0)" font-size="29.8" text-anchor="middle" fill="#000" stroke="#000" stroke-width="0.3">60</text>
<line x1="1464.22" y1="1344.50" x2="1464.22" y2="1350.50" stroke="#000" stroke-width="1.7" stroke-linecap="butt"/>
<line x1="1526.33" y1="1344.50" x2="1526.33" y2="1356.50" stroke="#000" stroke-width="1.7" stroke-linecap="butt"/>
<text transform="translate(1526.33,1389.30) scale(1.05,1.0)" font-size="29.8" text-anchor="middle" fill="#000" stroke="#000" stroke-width="0.3">80</text>
<line x1="1588.45" y1="1344.50" x2="1588.45" y2="1350.50" stroke="#000" stroke-width="1.7" stroke-linecap="butt"/>
<line x1="1650.57" y1="1344.50" x2="1650.57" y2="1356.50" stroke="#000" stroke-width="1.7" stroke-linecap="butt"/>
<text transform="translate(1650.57,1389.30) scale(1.05,1.0)" font-size="29.8" text-anchor="middle" fill="#000" stroke="#000" stroke-width="0.3">100</text>
<line x1="1712.68" y1="1344.50" x2="1712.68" y2="1350.50" stroke="#000" stroke-width="1.7" stroke-linecap="butt"/>
<line x1="1774.80" y1="1344.50" x2="1774.80" y2="1356.50" stroke="#000" stroke-width="1.7" stroke-linecap="butt"/>
<text transform="translate(1774.80,1389.30) scale(1.05,1.0)" font-size="29.8" text-anchor="middle" fill="#000" stroke="#000" stroke-width="0.3">120</text>
<line x1="1017.40" y1="1344.50" x2="1029.40" y2="1344.50" stroke="#000" stroke-width="1.7" stroke-linecap="butt"/>
<text transform="translate(1008.20,1355.00) scale(1.05,1.0)" font-size="29.8" text-anchor="end" fill="#000" stroke="#000" stroke-width="0.3">0</text>
<line x1="1023.40" y1="1311.19" x2="1029.40" y2="1311.19" stroke="#000" stroke-width="1.7" stroke-linecap="butt"/>
<line x1="1017.40" y1="1277.88" x2="1029.40" y2="1277.88" stroke="#000" stroke-width="1.7" stroke-linecap="butt"/>
<text transform="translate(1008.20,1288.38) scale(1.05,1.0)" font-size="29.8" text-anchor="end" fill="#000" stroke="#000" stroke-width="0.3">10</text>
<line x1="1023.40" y1="1244.57" x2="1029.40" y2="1244.57" stroke="#000" stroke-width="1.7" stroke-linecap="butt"/>
<line x1="1017.40" y1="1211.26" x2="1029.40" y2="1211.26" stroke="#000" stroke-width="1.7" stroke-linecap="butt"/>
<text transform="translate(1008.20,1221.76) scale(1.05,1.0)" font-size="29.8" text-anchor="end" fill="#000" stroke="#000" stroke-width="0.3">20</text>
<line x1="1023.40" y1="1177.94" x2="1029.40" y2="1177.94" stroke="#000" stroke-width="1.7" stroke-linecap="butt"/>
<line x1="1017.40" y1="1144.63" x2="1029.40" y2="1144.63" stroke="#000" stroke-width="1.7" stroke-linecap="butt"/>
<text transform="translate(1008.20,1155.13) scale(1.05,1.0)" font-size="29.8" text-anchor="end" fill="#000" stroke="#000" stroke-width="0.3">30</text>
<line x1="1023.40" y1="1111.32" x2="1029.40" y2="1111.32" stroke="#000" stroke-width="1.7" stroke-linecap="butt"/>
<line x1="1017.40" y1="1078.01" x2="1029.40" y2="1078.01" stroke="#000" stroke-width="1.7" stroke-linecap="butt"/>
<text transform="translate(1008.20,1088.51) scale(1.05,1.0)" font-size="29.8" text-anchor="end" fill="#000" stroke="#000" stroke-width="0.3">40</text>
<line x1="1023.40" y1="1044.70" x2="1029.40" y2="1044.70" stroke="#000" stroke-width="1.7" stroke-linecap="butt"/>
<line x1="1017.40" y1="1011.39" x2="1029.40" y2="1011.39" stroke="#000" stroke-width="1.7" stroke-linecap="butt"/>
<text transform="translate(1008.20,1021.89) scale(1.05,1.0)" font-size="29.8" text-anchor="end" fill="#000" stroke="#000" stroke-width="0.3">50</text>
<line x1="1023.40" y1="978.08" x2="1029.40" y2="978.08" stroke="#000" stroke-width="1.7" stroke-linecap="butt"/>
<line x1="1017.40" y1="944.77" x2="1029.40" y2="944.77" stroke="#000" stroke-width="1.7" stroke-linecap="butt"/>
<text transform="translate(1008.20,955.27) scale(1.05,1.0)" font-size="29.8" text-anchor="end" fill="#000" stroke="#000" stroke-width="0.3">60</text>
<line x1="1023.40" y1="911.46" x2="1029.40" y2="911.46" stroke="#000" stroke-width="1.7" stroke-linecap="butt"/>
<line x1="1017.40" y1="878.14" x2="1029.40" y2="878.14" stroke="#000" stroke-width="1.7" stroke-linecap="butt"/>
<text transform="translate(1008.20,888.64) scale(1.05,1.0)" font-size="29.8" text-anchor="end" fill="#000" stroke="#000" stroke-width="0.3">70</text>
<line x1="1023.40" y1="844.83" x2="1029.40" y2="844.83" stroke="#000" stroke-width="1.7" stroke-linecap="butt"/>
<line x1="1017.40" y1="811.52" x2="1029.40" y2="811.52" stroke="#000" stroke-width="1.7" stroke-linecap="butt"/>
<text transform="translate(1008.20,822.02) scale(1.05,1.0)" font-size="29.8" text-anchor="end" fill="#000" stroke="#000" stroke-width="0.3">80</text>
<line x1="1023.40" y1="778.21" x2="1029.40" y2="778.21" stroke="#000" stroke-width="1.7" stroke-linecap="butt"/>
<line x1="1017.40" y1="744.90" x2="1029.40" y2="744.90" stroke="#000" stroke-width="1.7" stroke-linecap="butt"/>
<text transform="translate(1008.20,755.40) scale(1.05,1.0)" font-size="29.8" text-anchor="end" fill="#000" stroke="#000" stroke-width="0.3">90</text>
<text transform="translate(1402.10,1445.30) scale(1.048,1.0)" font-size="35.8" text-anchor="middle" fill="#000" stroke="#000" stroke-width="0.3">Time-on-stream (h)</text>
<text transform="translate(953.10,1043.60) rotate(-90) scale(1.0,1.0)" font-size="37.1" text-anchor="middle" fill="#000" stroke="#000" stroke-width="0.3">NH<tspan font-size="24.12" dy="11.87">3</tspan><tspan dy="-11.87"> Synthesis Rate (mmol.g</tspan><tspan font-size="24.12" dy="-15.21">-1</tspan><tspan font-size="24.12" dx="-21.44" dy="27.08">cat</tspan><tspan dy="-11.87">.h</tspan><tspan font-size="24.12" dy="-15.21">-1</tspan><tspan dy="15.21">)</tspan></text>
<text transform="translate(1719.80,803.30) scale(1.0,1.0)" font-size="51.3" text-anchor="start" fill="#000" stroke="#000" stroke-width="0" font-weight="bold">d</text>
<line x1="1051.00" y1="773.70" x2="1096.00" y2="773.70" stroke="#f9101c" stroke-width="1.8" stroke-linecap="butt" stroke-dasharray="8 5"/>
<circle cx="1075.80" cy="773.70" r="9.40" fill="#f9101c"/>
<text transform="translate(1120.00,784.00) scale(1.05,1.0)" font-size="29.7" text-anchor="start" fill="#000" stroke="#000" stroke-width="0.3">Ru(10%)/C_inCs</text>
</svg>
</body></html>
